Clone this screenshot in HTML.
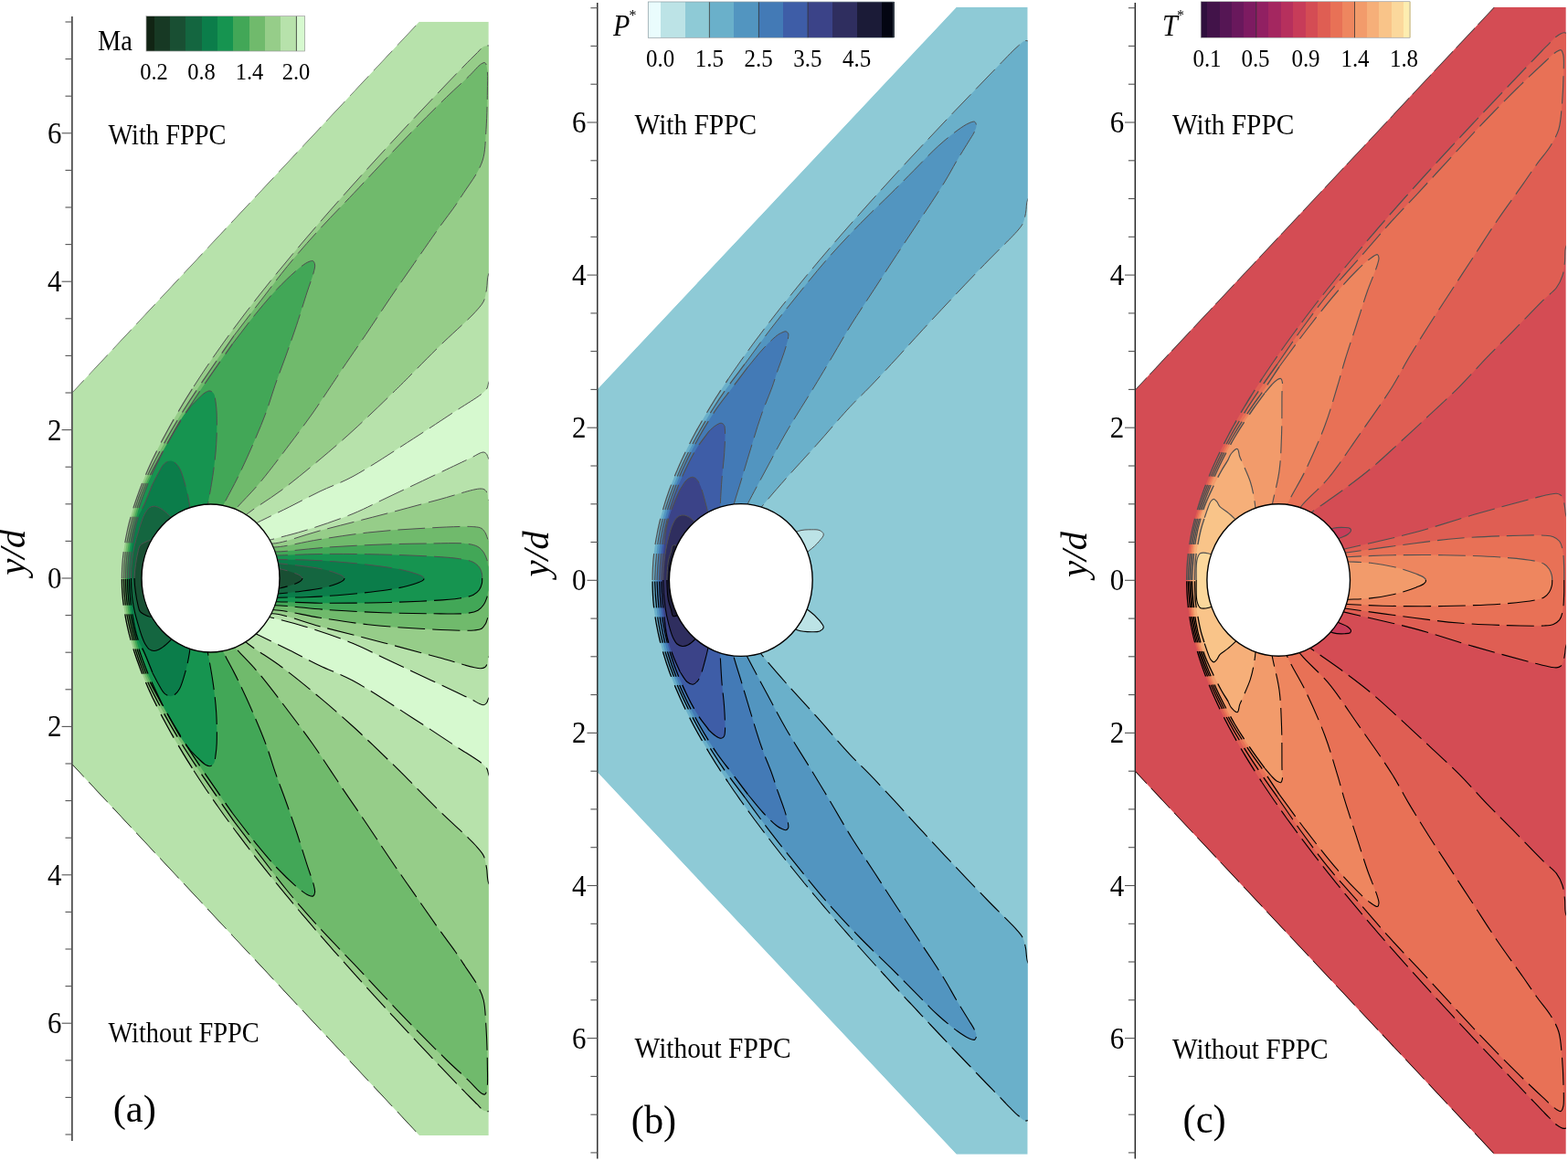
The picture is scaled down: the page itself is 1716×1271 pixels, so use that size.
<!DOCTYPE html>
<html lang="en">
<head>
<meta charset="utf-8">
<title>Contours with and without FPPC</title>
<style>
html,body{margin:0;padding:0;background:#fff;}
body{width:1716px;height:1271px;overflow:hidden;}
svg{display:block;}
text{font-family:"Liberation Serif","DejaVu Serif",serif;fill:#000;}
.it{font-style:italic;}
</style>
</head>
<body>
<svg width="1716" height="1271" viewBox="0 0 1716 1271">
<rect width="1716" height="1271" fill="#fff"/>
<defs><clipPath id="doma"><path d="M79.3,429.2 L458.7,23.7 L534.8,23.7 L534.8,1243 L458.7,1243 L79.3,837.5Z"/></clipPath>
<clipPath id="upa"><rect x="0" y="0" width="1716" height="633"/></clipPath>
<clipPath id="loa"><rect x="0" y="633" width="1716" height="638"/></clipPath></defs>
<g clip-path="url(#doma)">
<path d="M79.3,429.2 L458.7,23.7 L534.8,23.7 L534.8,1243 L458.7,1243 L79.3,837.5Z" fill="#b7e2ab"/>
<g clip-path="url(#upa)">
<g stroke="none">
<path d="M134.3,653 C134,649.7 133.7,646.3 133.6,643 C133.5,639.7 133.4,636.3 133.4,633 C133.4,629.7 133.5,626.3 133.6,623 C133.8,619.7 134,616.3 134.3,613 C134.6,609.7 135,606.3 135.4,603 C135.9,599.7 136.4,596.3 137,593 C137.6,589.7 138.2,586.3 138.9,583 C139.6,579.7 140.4,576.3 141.2,573 C142.1,569.7 143,566.3 143.9,563 C144.9,559.7 145.9,556.3 147,553 C148.1,549.7 149.2,546.3 150.4,543 C151.6,539.7 152.8,536.3 154.1,533 C155.4,529.7 156.7,526.3 158.1,523 C159.5,519.7 161,516.3 162.4,513 C163.9,509.7 165.5,506.3 167,503 C168.6,499.7 170.3,496.3 171.9,493 C173.6,489.7 175.3,486.3 177,483 C178.8,479.7 180.6,476.3 182.4,473 C184.2,469.7 186.1,466.3 187.9,463 C189.8,459.7 191.8,456.3 193.7,453 C195.7,449.7 197.7,446.3 199.7,443 C201.7,439.7 203.7,436.3 205.8,433 C207.9,429.7 210,426.3 212.1,423 C214.2,419.7 216.4,416.3 218.6,413 C220.8,409.7 223,406.3 225.2,403 C227.5,399.7 229.7,396.3 232,393 C234.3,389.7 236.6,386.3 239,383 C241.3,379.7 243.7,376.3 246.1,373 C248.5,369.7 250.9,366.3 253.4,363 C255.8,359.7 258.3,356.3 260.8,353 C263.3,349.7 265.8,346.3 268.3,343 C270.9,339.7 273.5,336.3 276,333 C278.6,329.7 281.2,326.3 283.8,323 C286.5,319.7 289.1,316.3 291.8,313 C294.4,309.7 297.1,306.3 299.8,303 C302.5,299.7 305.3,296.3 308,293 C310.7,289.7 313.5,286.3 316.3,283 C319,279.7 321.8,276.3 324.6,273 C327.5,269.7 330.3,266.3 333.1,263 C336,259.7 338.8,256.3 341.7,253 C344.5,249.7 347.4,246.3 350.3,243 C353.2,239.7 356.1,236.3 359,233 C362,229.7 364.9,226.3 367.8,223 C370.8,219.7 373.7,216.3 376.7,213 C379.7,209.7 382.7,206.3 385.6,203 C388.6,199.7 391.6,196.3 394.6,193 C397.6,189.7 400.7,186.3 403.7,183 C406.7,179.7 409.8,176.3 412.8,173 C415.9,169.7 418.9,166.3 422,163 C425,159.7 428.1,156.3 431.2,153 C434.3,149.7 437.4,146.3 440.5,143 C443.6,139.7 446.7,136.3 449.8,133 C453,129.7 456.1,126.3 459.2,123 C462.4,119.7 465.5,116.3 468.7,113 C471.8,109.7 475,106.3 478.2,103 C481.4,99.7 484.5,96.3 487.7,93 C490.9,89.7 494.1,86.3 497.3,83 C500.5,79.7 503.9,76.2 507,73 C509.8,70.1 512.5,67.4 515.2,64.7 C517.7,62.2 520.1,59.8 522.5,57.5 C524.9,55.2 527,52 529.8,50.7 C532.5,49.5 537.7,50 539.1,50 C539.6,50 539.7,50 540,50 L541,292 C538.9,294.7 536.1,296.6 534.7,300 C532.9,304.4 533.5,311.5 532.5,316.7 C531.6,321.4 531.2,325.9 529.2,330 C527.1,334.3 523.2,338 520,341.7 C516.8,345.3 514.1,347.7 510,351.7 C503.6,357.9 494,366.4 485,375 C474.2,385.4 458.5,401.4 450,410 C445.1,415 443.6,416.6 438.3,421.8 C427.2,432.7 402,457.2 386,471.7 C373,483.5 362.6,492.5 350,503 C336.6,514.2 321.7,526.5 308,536.7 C295.6,545.9 282.1,553.8 271.7,561.7 C263.4,568.1 257.2,573.9 250,580 L230.5,623 L230.5,658Z" fill="#96cd89"/>
<path d="M270,578 C274.2,575.9 277.3,574.3 282.5,571.7 C291.1,567.4 305.4,560.6 316.7,555 C327.9,549.4 338.6,543.5 350,538 C361.7,532.4 372.4,529 386,521.7 C405.1,511.4 432.4,493 452.7,480 C469.9,469 486.3,458 500,449 C510.6,442.1 522.6,435.1 528,430.5 C530.5,428.3 531.8,427.2 533,425 C534.3,422.7 534.1,419.2 535.5,417 C536.8,414.9 539.2,413.7 541,412 L540,508 C538.2,506 535.9,504 534.6,502 C533.6,500.4 533.6,498.4 532.6,497.2 C531.7,496.1 530.6,495.1 529,495 C525.9,494.8 519.7,499.3 515,501.5 C510.1,503.8 506.5,505.5 500,508.6 C488.2,514.2 464.6,525.4 450,532.3 C438.7,537.6 430.3,541.6 420,546.5 C409,551.7 398.7,557.3 386,562.5 C370.4,568.9 349,576.1 333,581 C320.1,585 307.5,587.9 297.7,590.5 C290.8,592.3 285.9,593.5 280,595Z" fill="#d6f9cf"/>
<path d="M136.3,653 C136,646.3 135.3,640.5 135.4,633 C135.5,623.4 136.2,611.5 137.9,600 C139.8,587.2 143.4,572.3 146.9,560 C149.9,549.2 153.1,540 157.3,530 C161.7,519.4 167,509 172.8,498 C179.2,485.8 186.8,472.3 194.2,460 C201.4,448 208,438 216.6,425 C227.8,408.1 243.6,384.7 256,367.5 C266.5,353 276.1,341.1 286,328.3 C295.6,315.9 304.4,303.8 314.3,291.7 C324.4,279.3 334.6,267.6 346,255 C358.7,241 374.6,224.8 387.2,211.5 C397.9,200.2 406.4,190.9 416.7,180 C427.8,168.2 439.8,155.5 451.7,143.3 C463.7,131 477.2,117.5 488.3,106.7 C497.3,97.9 506.3,90.1 513.3,83.3 C518.5,78.3 523.3,72 526.7,70 C528.3,69 529.8,68.2 530.8,68.7 C532.1,69.3 532.5,72.1 533,75 C534,80.5 533.5,90.6 533.4,100 C533.3,112.1 532.8,129 532,141.7 C531.3,152.5 531.1,163.5 529.2,171.7 C527.8,177.7 526.1,181.2 523.3,186.7 C519.5,194.2 511.6,204.8 507,211.8 C503.7,216.9 501.8,220 498.3,225 C493.4,232.1 486.6,240.7 480,250 C471.9,261.4 462.2,275.5 453.3,288.3 C444.4,301.1 435.5,313.7 426.7,326.7 C417.8,339.9 408.8,353.7 400,366.7 C391.6,379.2 381.8,393.1 375,403.3 C370.2,410.5 367.4,414.8 362.7,421.8 C356.6,430.9 349.1,442.5 341.7,453 C333.8,464.1 325.7,474.8 316.7,486.7 C306.4,500.3 293.5,517.6 283,530 C274.5,540 265.9,548.3 259,556 C253.7,561.9 249.7,566.7 245,572 L230.5,623 L230.5,658Z" fill="#70ba6c"/>
<path d="M138.3,653 C138,646.3 137.3,640.5 137.4,633 C137.5,623.4 138.2,611.5 139.9,600 C141.8,587.2 145.3,572.3 148.9,560 C152,549.2 155.2,540 159.5,530 C164.1,519.4 169.9,509 176,498 C182.7,485.8 190.6,472.3 198.2,460 C205.6,448 212.5,437.5 220.8,425 C230.8,410.1 243.7,391.2 254.3,376.7 C263.3,364.4 271.6,353.7 280.1,343.3 C287.9,333.8 295,325.1 303,316.7 C310.9,308.4 321.1,298.6 327.7,293.3 C331.7,290.1 335.1,287.6 338,286.5 C339.8,285.8 341.6,285.2 342.7,285.8 C343.8,286.4 344.4,288.3 344.6,290 C344.9,292.4 343.9,295.4 343,299 C341.6,304.6 338.6,312 336,320 C332.6,330.5 328.3,344.8 324.3,356.7 C320.5,368.1 316.6,379 312.7,390 C308.9,400.7 304.6,411.5 301,421.8 C297.6,431.5 295.4,440 291.7,450 C287.5,461.5 282,474.6 276.7,486.7 C271.4,498.9 265.6,511.7 260,523 C255,533.2 249.3,543.2 245,551.7 C241.6,558.5 239,563.9 236,570 L230.5,623 L230.5,658Z" fill="#42a757"/>
<path d="M140.3,653 C140,646.3 139.3,640.5 139.4,633 C139.5,623.4 140.2,611.5 141.9,600 C143.8,587.2 147.3,572.3 150.9,560 C154,549.2 157.5,540.1 161.6,530 C166,519.4 172.6,505.9 176.5,498 C178.8,493.2 179.9,491.3 182.4,486.7 C186.5,479.3 193.9,465.6 198.8,458 C202.3,452.7 205.3,448.8 208.5,445 C211.2,441.8 213.9,439.3 216.7,436.7 C219.4,434.2 222.4,430.9 225,429.5 C226.8,428.5 228.5,427.7 230,428 C231.5,428.3 233,429.5 234,431 C235.3,433.1 235.5,436.7 236,440 C236.6,443.9 237,447.6 237.2,453 C237.5,461.6 237.4,475.5 236.7,486.7 C236,497.9 234.6,509.1 233,520 C231.5,530.7 229.2,542.6 227.5,551.7 C226.2,558.6 225.2,563.9 224,570 L230.5,623 L230.5,658Z" fill="#169450"/>
<path d="M142.3,653 C142,646.3 141.3,640.5 141.4,633 C141.5,623.4 142.3,610.9 143.9,600 C145.5,588.9 147.9,575.8 150.9,567 C153,560.8 155.8,557.3 158.2,551.7 C161.1,545.1 164.2,536.1 167,530 C169.2,525.4 171.1,521.8 173.3,518 C175.4,514.3 177.4,509.8 180,507.5 C182,505.8 184.6,504.5 186.7,504.5 C188.6,504.5 190.4,505.7 192,507 C193.8,508.4 195.2,510.3 196.7,513 C199.1,517.4 201.2,525.2 203,531.7 C204.9,538.5 206.5,546.3 207.5,553 C208.4,559 208.5,564.3 209,570 L230.5,623 L230.5,658Z" fill="#0b7d4a"/>
<path d="M144.3,653 C144,646.3 143.3,639.7 143.4,633 C143.4,626.3 143.9,619.3 144.6,613 C145.3,607.4 146.2,602.2 147.4,597 C148.5,591.9 150.1,586.7 151.5,582 C152.7,577.8 153.9,573.6 155.3,570 C156.4,567 157.3,564.4 158.7,562 C160.1,559.7 161.7,557.1 163.5,555.8 C165,554.8 166.7,554.3 168.3,554.2 C170,554.1 171.8,554.8 173.5,555.5 C175.2,556.2 176.5,557 178.3,558.3 C180.8,560.1 184,563.1 186.7,565.8 C189.6,568.6 192.2,571.9 195,575 L230.5,623 L230.5,658Z" fill="#146640"/>
<path d="M148,653 C147.7,646.3 146.9,639.2 147.1,633 C147.2,627.5 147.8,622.4 148.5,617.5 C149.1,613.1 149.9,608.7 150.8,605 C151.6,602 151.8,598.9 153.4,597 C154.7,595.3 157.2,594.4 159,593.5 C160.5,592.7 161.7,592 163.3,591.7 C165.3,591.4 167.7,591.1 170,592 C173.2,593.2 176.7,597.3 180,600 L230.5,623 L230.5,658Z" fill="#194f33"/>
<path d="M285,592 C289.5,593 292.6,595.1 298.5,595 C310.1,594.7 331.5,585.9 350,581 C371.5,575.3 397.6,568.9 420,563 C440.8,557.6 461.3,551.9 480,547 C496.3,542.7 518.4,534.9 526,535 C528.5,535 529.7,535.5 531,536.5 C532.2,537.5 532.9,539.3 533.5,541 C534.1,542.8 533.5,545.3 534.6,547 C535.8,549 538.9,550.3 541,552 L545,560 C545,591.7 565.4,634.6 545,655 C507.8,692.2 335.3,655 230.5,655Z" fill="#96cd89"/>
<path d="M285,597 C290,597.7 293.6,599.1 300,599 C311.8,598.8 333.1,593.1 350,590.5 C367.3,587.8 384.7,585 402.7,583 C421.4,580.9 440.7,579.5 460,578.5 C479.5,577.4 508.4,575.7 519,576.7 C522.9,577.1 524.9,577.2 527,578.5 C529,579.7 530.3,582 531.5,584 C532.7,586.1 532.8,589 534.3,591 C535.9,593.1 538.8,594.3 541,596 L545,560 C545,591.7 565.4,634.6 545,655 C507.8,692.2 335.3,655 230.5,655Z" fill="#70ba6c"/>
<path d="M285,603 C290.3,603.3 294,604.1 301,604 C314.5,603.9 340.3,600.3 360,599 C379.7,597.7 400,596.7 419,596 C436.6,595.4 453.9,595.1 470,595 C484.4,594.9 501.5,594 511,595.3 C516.3,596 519.8,596.7 523,598.5 C525.8,600.1 527.8,602.5 529.5,605 C531.1,607.4 532.1,610.4 533,613 C533.8,615.4 533.4,618 534.6,620 C535.9,622.1 538.9,623.3 541,625 L545,560 C545,591.7 565.4,634.6 545,655 C507.8,692.2 335.3,655 230.5,655Z" fill="#42a757"/>
<path d="M285,608 C290.9,608 295.4,608.1 302.7,608 C314.7,607.8 333.8,606.7 350,606.5 C367.1,606.3 384.8,606.4 402.7,606.7 C421.4,607 442.3,607.6 460,608.5 C475.3,609.3 492.1,610 502.7,611.7 C509.1,612.7 514.1,613.5 518,615.5 C520.8,617 522.9,618.8 524.5,621 C526,623 526.9,625.8 527.4,628 C527.8,629.8 527.6,630.7 527.7,633 C527.8,637.7 527.7,647.7 527.7,655 L230.5,655Z" fill="#169450"/>
<path d="M285,612 C291.2,612.2 296.5,612.4 303.5,612.5 C312.6,612.7 324.3,612.6 335,613 C346.1,613.4 357.5,614.1 369,615 C380.8,615.9 393.5,617.1 405,618.5 C415.7,619.8 427,621.2 436,623 C443.2,624.5 450.1,626.3 455,628 C458.3,629.1 461.5,630.1 463,631.5 C463.8,632.3 464.2,633 464.3,634 C464.4,635.6 462.8,638 462,640 L230.5,655Z" fill="#0b7d4a"/>
<path d="M285,615 C291.3,615.6 297.2,616 304,616.7 C312,617.5 321.6,618.4 330,619.5 C337.8,620.5 345.9,621.5 352.7,623 C358.3,624.3 363.8,625.8 368,627.5 C371.2,628.7 374.7,630 376,631.5 C376.7,632.3 377,633 377,634 C376.9,635.6 375,638 374,640 L230.5,655Z" fill="#146640"/>
<path d="M285,620 C291.7,620.8 298.6,621.2 305,622.5 C311.1,623.7 318.2,625.7 322.7,627.5 C325.6,628.6 328.1,629.6 329.5,631 C330.4,631.9 331,632.8 331,634 C331,635.7 329,638 328,640 L230.5,655Z" fill="#194f33"/>
</g>
<g fill="none" stroke="#505050" stroke-width="1.0" stroke-linecap="butt">
<path d="M134.3,653 C134,649.7 133.7,646.3 133.6,643 C133.5,639.7 133.4,636.3 133.4,633 C133.4,629.7 133.5,626.3 133.6,623 C133.8,619.7 134,616.3 134.3,613 C134.6,609.7 135,606.3 135.4,603 C135.9,599.7 136.4,596.3 137,593 C137.6,589.7 138.2,586.3 138.9,583 C139.6,579.7 140.4,576.3 141.2,573 C142.1,569.7 143,566.3 143.9,563 C144.9,559.7 145.9,556.3 147,553 C148.1,549.7 149.2,546.3 150.4,543 C151.6,539.7 152.8,536.3 154.1,533 C155.4,529.7 156.7,526.3 158.1,523 C159.5,519.7 161,516.3 162.4,513 C163.9,509.7 165.5,506.3 167,503 C168.6,499.7 170.3,496.3 171.9,493 C173.6,489.7 175.3,486.3 177,483 C178.8,479.7 180.6,476.3 182.4,473 C184.2,469.7 186.1,466.3 187.9,463 C189.8,459.7 191.8,456.3 193.7,453 C195.7,449.7 197.7,446.3 199.7,443 C201.7,439.7 203.7,436.3 205.8,433 C207.9,429.7 210,426.3 212.1,423" stroke-dasharray="29 10" stroke-dashoffset="19" stroke-width="1.2"/>
<path d="M212.1,423 C214.3,419.7 216.4,416.3 218.6,413 C220.8,409.7 223,406.3 225.2,403 C227.5,399.7 229.7,396.3 232,393 C234.3,389.7 236.6,386.3 239,383 C241.3,379.7 243.7,376.3 246.1,373 C248.5,369.7 250.9,366.3 253.4,363 C255.8,359.7 258.3,356.3 260.8,353 C263.3,349.7 265.8,346.3 268.3,343 C270.9,339.7 273.5,336.3 276,333 C278.6,329.7 281.2,326.3 283.8,323 C286.5,319.7 289.1,316.3 291.8,313 C294.4,309.7 297.1,306.3 299.8,303 C302.5,299.7 305.3,296.3 308,293 C310.7,289.7 313.5,286.3 316.3,283 C319,279.7 321.8,276.3 324.6,273 C327.5,269.7 330.3,266.3 333.1,263 C336,259.7 338.8,256.3 341.7,253 C344.5,249.7 347.4,246.3 350.3,243 C353.2,239.7 356.1,236.3 359,233 C362,229.7 364.9,226.3 367.8,223 C370.8,219.7 373.7,216.3 376.7,213 C379.7,209.7 382.7,206.3 385.6,203 C388.6,199.7 391.6,196.3 394.6,193 C397.6,189.7 400.7,186.3 403.7,183 C406.7,179.7 409.8,176.3 412.8,173 C415.9,169.7 418.9,166.3 422,163 C425,159.7 428.1,156.3 431.2,153 C434.3,149.7 437.4,146.3 440.5,143 C443.6,139.7 446.7,136.3 449.8,133 C453,129.7 456.1,126.3 459.2,123 C462.4,119.7 465.5,116.3 468.7,113 C471.8,109.7 475,106.3 478.2,103 C481.4,99.7 484.5,96.3 487.7,93 C490.9,89.7 494.1,86.3 497.3,83 C500.5,79.7 503.9,76.2 507,73 C509.8,70.1 512.5,67.4 515.2,64.7 C517.7,62.2 520.1,59.8 522.5,57.5 C524.9,55.2 527,52 529.8,50.7 C532.5,49.5 537.7,50 539.1,50 C539.6,50 539.7,50 540,50" stroke-dasharray="30 8"/>
<path d="M541,292 C538.9,294.7 536.1,296.6 534.7,300 C532.9,304.4 533.5,311.5 532.5,316.7 C531.6,321.4 531.2,325.9 529.2,330 C527.1,334.3 523.2,338 520,341.7 C516.8,345.3 514.1,347.7 510,351.7 C503.6,357.9 494,366.4 485,375 C474.2,385.4 458.5,401.4 450,410 C445.1,415 443.6,416.6 438.3,421.8 C427.2,432.7 402,457.2 386,471.7 C373,483.5 362.6,492.5 350,503 C336.6,514.2 321.7,526.5 308,536.7 C295.6,545.9 282.1,553.8 271.7,561.7 C263.4,568.1 257.2,573.9 250,580" stroke-dasharray="30 8"/>
<path d="M270,578 C274.2,575.9 277.3,574.3 282.5,571.7 C291.1,567.4 305.4,560.6 316.7,555 C327.9,549.4 338.6,543.5 350,538 C361.7,532.4 372.4,529 386,521.7 C405.1,511.4 432.4,493 452.7,480 C469.9,469 486.3,458 500,449 C510.6,442.1 522.6,435.1 528,430.5 C530.5,428.3 531.8,427.2 533,425 C534.3,422.7 534.1,419.2 535.5,417 C536.8,414.9 539.2,413.7 541,412" stroke-dasharray="30 8"/>
<path d="M540,508 C538.2,506 535.9,504 534.6,502 C533.6,500.4 533.6,498.4 532.6,497.2 C531.7,496.1 530.6,495.1 529,495 C525.9,494.8 519.7,499.3 515,501.5 C510.1,503.8 506.5,505.5 500,508.6 C488.2,514.2 464.6,525.4 450,532.3 C438.7,537.6 430.3,541.6 420,546.5 C409,551.7 398.7,557.3 386,562.5 C370.4,568.9 349,576.1 333,581 C320.1,585 307.5,587.9 297.7,590.5 C290.8,592.3 285.9,593.5 280,595" stroke-dasharray="30 8"/>
<path d="M136.3,653 C136,646.3 135.3,640.5 135.4,633 C135.5,623.4 136.2,611.5 137.9,600 C139.8,587.2 143.4,572.3 146.9,560 C149.9,549.2 153.1,540 157.3,530 C161.7,519.4 167,509 172.8,498 C179.2,485.8 186.8,472.3 194.2,460 C201.4,448 208,438 216.6,425 C227.8,408.1 242.9,386.7 256,367.5" stroke-dasharray="29 10" stroke-dashoffset="19" stroke-width="1.2"/>
<path d="M256,367.5 C266,354.4 276.1,341.1 286,328.3 C295.6,315.9 304.4,303.8 314.3,291.7 C324.4,279.3 334.6,267.6 346,255 C358.7,241 374.6,224.8 387.2,211.5 C397.9,200.2 406.4,190.9 416.7,180 C427.8,168.2 439.8,155.5 451.7,143.3 C463.7,131 477.2,117.5 488.3,106.7 C497.3,97.9 506.3,90.1 513.3,83.3 C518.5,78.3 523.3,72 526.7,70 C528.3,69 529.8,68.2 530.8,68.7 C532.1,69.3 532.5,72.1 533,75 C534,80.5 533.5,90.6 533.4,100 C533.3,112.1 532.8,129 532,141.7 C531.3,152.5 531.1,163.5 529.2,171.7 C527.8,177.7 526.1,181.2 523.3,186.7 C519.5,194.2 511.6,204.8 507,211.8 C503.7,216.9 501.8,220 498.3,225 C493.4,232.1 486.6,240.7 480,250 C471.9,261.4 462.2,275.5 453.3,288.3 C444.4,301.1 435.5,313.7 426.7,326.7 C417.8,339.9 408.8,353.7 400,366.7 C391.6,379.2 381.8,393.1 375,403.3 C370.2,410.5 367.4,414.8 362.7,421.8 C356.6,430.9 349.1,442.5 341.7,453 C333.8,464.1 325.7,474.8 316.7,486.7 C306.4,500.3 293.5,517.6 283,530 C274.5,540 265.9,548.3 259,556 C253.7,561.9 249.7,566.7 245,572" stroke-dasharray="30 8"/>
<path d="M138.3,653 C138,646.3 137.3,640.5 137.4,633 C137.5,623.4 138.2,611.5 139.9,600 C141.8,587.2 145.3,572.3 148.9,560 C152,549.2 155.2,540 159.5,530 C164.1,519.4 169.9,509 176,498 C182.7,485.8 190.6,472.3 198.2,460 C205.6,448 212.5,437.5 220.8,425 C230.8,410.1 243.1,392.8 254.3,376.7" stroke-dasharray="29 10" stroke-dashoffset="19" stroke-width="1.2"/>
<path d="M254.3,376.7 C262.9,365.6 271.6,353.7 280.1,343.3 C287.9,333.8 295,325.1 303,316.7 C310.9,308.4 321.1,298.6 327.7,293.3 C331.7,290.1 335.1,287.6 338,286.5 C339.8,285.8 341.6,285.2 342.7,285.8 C343.8,286.4 344.4,288.3 344.6,290 C344.9,292.4 343.9,295.4 343,299 C341.6,304.6 338.6,312 336,320 C332.6,330.5 328.3,344.8 324.3,356.7 C320.5,368.1 316.6,379 312.7,390 C308.9,400.7 304.6,411.5 301,421.8 C297.6,431.5 295.4,440 291.7,450 C287.5,461.5 282,474.6 276.7,486.7 C271.4,498.9 265.6,511.7 260,523 C255,533.2 249.3,543.2 245,551.7 C241.6,558.5 239,563.9 236,570" stroke-dasharray="30 8"/>
<path d="M140.3,653 C140,646.3 139.3,640.5 139.4,633 C139.5,623.4 140.2,611.5 141.9,600 C143.8,587.2 147.3,572.3 150.9,560 C154,549.2 157.5,540.1 161.6,530 C166,519.4 172.6,505.9 176.5,498 C178.8,493.2 179.9,491.3 182.4,486.7 C186.5,479.3 193.9,465.6 198.8,458 C202.3,452.7 205.3,449.3 208.5,445" stroke-dasharray="29 10" stroke-dashoffset="19" stroke-width="1.2"/>
<path d="M208.5,445 C211.2,442.2 213.9,439.3 216.7,436.7 C219.4,434.2 222.4,430.9 225,429.5 C226.8,428.5 228.5,427.7 230,428 C231.5,428.3 233,429.5 234,431 C235.3,433.1 235.5,436.7 236,440 C236.6,443.9 237,447.6 237.2,453 C237.5,461.6 237.4,475.5 236.7,486.7 C236,497.9 234.6,509.1 233,520 C231.5,530.7 229.2,542.6 227.5,551.7 C226.2,558.6 225.2,563.9 224,570" stroke-dasharray="30 8"/>
<path d="M142.3,653 C142,646.3 141.3,640.5 141.4,633 C141.5,623.4 142.3,610.9 143.9,600 C145.5,588.9 147.9,575.8 150.9,567 C153,560.8 155.8,557.3 158.2,551.7 C161.1,545.1 164.1,537.2 167,530" stroke-dasharray="29 10" stroke-dashoffset="19" stroke-width="1.2"/>
<path d="M167,530 C169.1,526 171.1,521.8 173.3,518 C175.4,514.3 177.4,509.8 180,507.5 C182,505.8 184.6,504.5 186.7,504.5 C188.6,504.5 190.4,505.7 192,507 C193.8,508.4 195.2,510.3 196.7,513 C199.1,517.4 201.2,525.2 203,531.7 C204.9,538.5 206.5,546.3 207.5,553 C208.4,559 208.5,564.3 209,570" stroke-dasharray="30 8"/>
<path d="M144.3,653 C144,646.3 143.3,639.7 143.4,633 C143.4,626.3 143.9,619.3 144.6,613 C145.3,607.4 146.2,602.2 147.4,597 C148.5,591.9 150.1,586.7 151.5,582 C152.7,577.8 153.9,573.6 155.3,570 C156.4,567 157.3,564.4 158.7,562 C160.1,559.7 161.7,557.1 163.5,555.8 C165,554.8 166.7,554.3 168.3,554.2 C170,554.1 171.8,554.8 173.5,555.5 C175.2,556.2 176.5,557 178.3,558.3 C180.8,560.1 184,563.1 186.7,565.8 C189.6,568.6 192.2,571.9 195,575"/>
<path d="M148,653 C147.7,646.3 146.9,639.2 147.1,633 C147.2,627.5 147.8,622.4 148.5,617.5 C149.1,613.1 149.9,608.7 150.8,605 C151.6,602 151.8,598.9 153.4,597 C154.7,595.3 157.2,594.4 159,593.5 C160.5,592.7 161.7,592 163.3,591.7 C165.3,591.4 167.7,591.1 170,592 C173.2,593.2 176.7,597.3 180,600"/>
<path d="M285,592 C289.5,593 292.6,595.1 298.5,595 C310.1,594.7 331.5,585.9 350,581 C371.5,575.3 397.6,568.9 420,563 C440.8,557.6 461.3,551.9 480,547 C496.3,542.7 518.4,534.9 526,535 C528.5,535 529.7,535.5 531,536.5 C532.2,537.5 532.9,539.3 533.5,541 C534.1,542.8 533.5,545.3 534.6,547 C535.8,549 538.9,550.3 541,552" stroke-dasharray="30 8"/>
<path d="M285,597 C290,597.7 293.6,599.1 300,599 C311.8,598.8 333.1,593.1 350,590.5 C367.3,587.8 384.7,585 402.7,583 C421.4,580.9 440.7,579.5 460,578.5 C479.5,577.4 508.4,575.7 519,576.7 C522.9,577.1 524.9,577.2 527,578.5 C529,579.7 530.3,582 531.5,584 C532.7,586.1 532.8,589 534.3,591 C535.9,593.1 538.8,594.3 541,596" stroke-dasharray="30 8"/>
<path d="M285,603 C290.3,603.3 294,604.1 301,604 C314.5,603.9 340.3,600.3 360,599 C379.7,597.7 400,596.7 419,596 C436.6,595.4 453.9,595.1 470,595 C484.4,594.9 501.5,594 511,595.3 C516.3,596 519.8,596.7 523,598.5 C525.8,600.1 527.8,602.5 529.5,605 C531.1,607.4 532.1,610.4 533,613 C533.8,615.4 533.4,618 534.6,620 C535.9,622.1 538.9,623.3 541,625" stroke-dasharray="30 8"/>
<path d="M285,608 C290.9,608 295.4,608.1 302.7,608 C314.7,607.8 333.8,606.7 350,606.5 C367.1,606.3 384.8,606.4 402.7,606.7 C421.4,607 442.3,607.6 460,608.5 C475.3,609.3 492.1,610 502.7,611.7 C509.1,612.7 514.1,613.5 518,615.5 C520.8,617 522.9,618.8 524.5,621 C526,623 526.9,625.8 527.4,628 C527.8,629.8 527.6,630.7 527.7,633 C527.8,637.7 527.7,647.7 527.7,655" stroke-dasharray="30 8"/>
<path d="M285,612 C291.2,612.2 296.5,612.4 303.5,612.5 C312.6,612.7 324.3,612.6 335,613 C346.1,613.4 357.5,614.1 369,615 C380.8,615.9 393.5,617.1 405,618.5 C415.7,619.8 427,621.2 436,623 C443.2,624.5 450.1,626.3 455,628 C458.3,629.1 461.5,630.1 463,631.5 C463.8,632.3 464.2,633 464.3,634 C464.4,635.6 462.8,638 462,640" stroke-dasharray="30 8"/>
<path d="M285,615 C291.3,615.6 297.2,616 304,616.7 C312,617.5 321.6,618.4 330,619.5 C337.8,620.5 345.9,621.5 352.7,623 C358.3,624.3 363.8,625.8 368,627.5 C371.2,628.7 374.7,630 376,631.5 C376.7,632.3 377,633 377,634 C376.9,635.6 375,638 374,640" stroke-dasharray="30 8"/>
<path d="M285,620 C291.7,620.8 298.6,621.2 305,622.5 C311.1,623.7 318.2,625.7 322.7,627.5 C325.6,628.6 328.1,629.6 329.5,631 C330.4,631.9 331,632.8 331,634 C331,635.7 329,638 328,640" stroke-dasharray="30 8"/>
</g>
</g>
<g clip-path="url(#loa)">
<g stroke="none">
<path d="M134.3,613.7 C134,617 133.7,620.4 133.6,623.7 C133.5,627 133.4,630.4 133.4,633.7 C133.4,637 133.5,640.4 133.6,643.7 C133.8,647 134,650.4 134.3,653.7 C134.6,657 135,660.4 135.4,663.7 C135.9,667 136.4,670.4 137,673.7 C137.6,677 138.2,680.4 138.9,683.7 C139.6,687 140.4,690.4 141.2,693.7 C142.1,697 143,700.4 143.9,703.7 C144.9,707 145.9,710.4 147,713.7 C148.1,717 149.2,720.4 150.4,723.7 C151.6,727 152.8,730.4 154.1,733.7 C155.4,737 156.7,740.4 158.1,743.7 C159.5,747 161,750.4 162.4,753.7 C163.9,757 165.5,760.4 167,763.7 C168.6,767 170.3,770.4 171.9,773.7 C173.6,777 175.3,780.4 177,783.7 C178.8,787 180.6,790.4 182.4,793.7 C184.2,797 186.1,800.4 187.9,803.7 C189.8,807 191.8,810.4 193.7,813.7 C195.7,817 197.7,820.4 199.7,823.7 C201.7,827 203.7,830.4 205.8,833.7 C207.9,837 210,840.4 212.1,843.7 C214.2,847 216.4,850.4 218.6,853.7 C220.8,857 223,860.4 225.2,863.7 C227.5,867 229.7,870.4 232,873.7 C234.3,877 236.6,880.4 239,883.7 C241.3,887 243.7,890.4 246.1,893.7 C248.5,897 250.9,900.4 253.4,903.7 C255.8,907 258.3,910.4 260.8,913.7 C263.3,917 265.8,920.4 268.3,923.7 C270.9,927 273.5,930.4 276,933.7 C278.6,937 281.2,940.4 283.8,943.7 C286.5,947 289.1,950.4 291.8,953.7 C294.4,957 297.1,960.4 299.8,963.7 C302.5,967 305.3,970.4 308,973.7 C310.7,977 313.5,980.4 316.3,983.7 C319,987 321.8,990.4 324.6,993.7 C327.5,997 330.3,1000.4 333.1,1003.7 C336,1007 338.8,1010.4 341.7,1013.7 C344.5,1017 347.4,1020.4 350.3,1023.7 C353.2,1027 356.1,1030.4 359,1033.7 C362,1037 364.9,1040.4 367.8,1043.7 C370.8,1047 373.7,1050.4 376.7,1053.7 C379.7,1057 382.7,1060.4 385.6,1063.7 C388.6,1067 391.6,1070.4 394.6,1073.7 C397.6,1077 400.7,1080.4 403.7,1083.7 C406.7,1087 409.8,1090.4 412.8,1093.7 C415.9,1097 418.9,1100.4 422,1103.7 C425,1107 428.1,1110.4 431.2,1113.7 C434.3,1117 437.4,1120.4 440.5,1123.7 C443.6,1127 446.7,1130.4 449.8,1133.7 C453,1137 456.1,1140.4 459.2,1143.7 C462.4,1147 465.5,1150.4 468.7,1153.7 C471.8,1157 475,1160.4 478.2,1163.7 C481.4,1167 484.5,1170.4 487.7,1173.7 C490.9,1177 494.1,1180.4 497.3,1183.7 C500.5,1187 503.9,1190.5 507,1193.7 C509.8,1196.6 512.5,1199.3 515.2,1202 C517.7,1204.5 520.1,1206.9 522.5,1209.2 C524.9,1211.5 527,1214.7 529.8,1216 C532.5,1217.2 537.7,1216.7 539.1,1216.7 C539.6,1216.7 539.7,1216.7 540,1216.7 L541,974.7 C538.9,972 536.1,970.1 534.7,966.7 C532.9,962.3 533.5,955.2 532.5,950 C531.6,945.3 531.2,940.8 529.2,936.7 C527.1,932.4 523.2,928.7 520,925 C516.8,921.4 514.1,919 510,915 C503.6,908.8 494,900.3 485,891.7 C474.2,881.3 458.5,865.3 450,856.7 C445.1,851.7 443.6,850.1 438.3,844.9 C427.2,834 402,809.5 386,795 C373,783.2 362.6,774.2 350,763.7 C336.6,752.5 321.7,740.2 308,730 C295.6,720.8 282.1,712.9 271.7,705 C263.4,698.6 257.2,692.8 250,686.7 L230.5,643.7 L230.5,608.7Z" fill="#96cd89"/>
<path d="M270,688.7 C274.2,690.8 277.3,692.4 282.5,695 C291.1,699.3 305.4,706.1 316.7,711.7 C327.9,717.3 338.6,723.2 350,728.7 C361.7,734.3 372.4,737.7 386,745 C405.1,755.3 432.4,773.7 452.7,786.7 C469.9,797.7 486.3,808.7 500,817.7 C510.6,824.6 522.6,831.6 528,836.2 C530.5,838.4 531.8,839.5 533,841.7 C534.3,844 534.1,847.5 535.5,849.7 C536.8,851.8 539.2,853 541,854.7 L540,758.7 C538.2,760.7 535.9,762.7 534.6,764.7 C533.6,766.3 533.6,768.3 532.6,769.5 C531.7,770.6 530.6,771.6 529,771.7 C525.9,771.9 519.7,767.4 515,765.2 C510.1,762.9 506.5,761.2 500,758.1 C488.2,752.5 464.6,741.3 450,734.4 C438.7,729.1 430.3,725.1 420,720.2 C409,715 398.7,709.4 386,704.2 C370.4,697.8 349,690.6 333,685.7 C320.1,681.7 307.5,678.8 297.7,676.2 C290.8,674.4 285.9,673.2 280,671.7Z" fill="#d6f9cf"/>
<path d="M136.3,613.7 C136,620.4 135.3,626.2 135.4,633.7 C135.5,643.3 136.2,655.2 137.9,666.7 C139.8,679.5 143.4,694.4 146.9,706.7 C149.9,717.5 153.1,726.7 157.3,736.7 C161.7,747.3 167,757.7 172.8,768.7 C179.2,780.9 186.8,794.4 194.2,806.7 C201.4,818.7 208,828.7 216.6,841.7 C227.8,858.6 243.6,882 256,899.2 C266.5,913.7 276.1,925.6 286,938.4 C295.6,950.8 304.4,962.9 314.3,975 C324.4,987.4 334.6,999.1 346,1011.7 C358.7,1025.7 374.6,1041.9 387.2,1055.2 C397.9,1066.5 406.4,1075.8 416.7,1086.7 C427.8,1098.5 439.8,1111.2 451.7,1123.4 C463.7,1135.7 477.2,1149.2 488.3,1160 C497.3,1168.8 506.3,1176.6 513.3,1183.4 C518.5,1188.4 523.3,1194.7 526.7,1196.7 C528.3,1197.7 529.8,1198.5 530.8,1198 C532.1,1197.4 532.5,1194.6 533,1191.7 C534,1186.2 533.5,1176.1 533.4,1166.7 C533.3,1154.6 532.8,1137.7 532,1125 C531.3,1114.2 531.1,1103.2 529.2,1095 C527.8,1089 526.1,1085.5 523.3,1080 C519.5,1072.5 511.6,1061.9 507,1054.9 C503.7,1049.8 501.8,1046.7 498.3,1041.7 C493.4,1034.6 486.6,1026 480,1016.7 C471.9,1005.3 462.2,991.2 453.3,978.4 C444.4,965.6 435.5,953 426.7,940 C417.8,926.8 408.8,913 400,900 C391.6,887.5 381.8,873.6 375,863.4 C370.2,856.2 367.4,851.9 362.7,844.9 C356.6,835.8 349.1,824.2 341.7,813.7 C333.8,802.6 325.7,791.9 316.7,780 C306.4,766.4 293.5,749.1 283,736.7 C274.5,726.7 265.9,718.4 259,710.7 C253.7,704.8 249.7,700 245,694.7 L230.5,643.7 L230.5,608.7Z" fill="#70ba6c"/>
<path d="M138.3,613.7 C138,620.4 137.3,626.2 137.4,633.7 C137.5,643.3 138.2,655.2 139.9,666.7 C141.8,679.5 145.3,694.4 148.9,706.7 C152,717.5 155.2,726.7 159.5,736.7 C164.1,747.3 169.9,757.7 176,768.7 C182.7,780.9 190.6,794.4 198.2,806.7 C205.6,818.7 212.5,829.2 220.8,841.7 C230.8,856.6 243.7,875.5 254.3,890 C263.3,902.3 271.6,913 280.1,923.4 C287.9,932.9 295,941.6 303,950 C310.9,958.3 321.1,968.1 327.7,973.4 C331.7,976.6 335.1,979.1 338,980.2 C339.8,980.9 341.6,981.5 342.7,980.9 C343.8,980.3 344.4,978.4 344.6,976.7 C344.9,974.3 343.9,971.3 343,967.7 C341.6,962.1 338.6,954.7 336,946.7 C332.6,936.2 328.3,921.9 324.3,910 C320.5,898.6 316.6,887.7 312.7,876.7 C308.9,866 304.6,855.2 301,844.9 C297.6,835.2 295.4,826.7 291.7,816.7 C287.5,805.2 282,792.1 276.7,780 C271.4,767.8 265.6,755 260,743.7 C255,733.5 249.3,723.5 245,715 C241.6,708.2 239,702.8 236,696.7 L230.5,643.7 L230.5,608.7Z" fill="#42a757"/>
<path d="M140.3,613.7 C140,620.4 139.3,626.2 139.4,633.7 C139.5,643.3 140.2,655.2 141.9,666.7 C143.8,679.5 147.3,694.4 150.9,706.7 C154,717.5 157.5,726.6 161.6,736.7 C166,747.3 172.6,760.8 176.5,768.7 C178.8,773.5 179.9,775.4 182.4,780 C186.5,787.4 193.9,801.1 198.8,808.7 C202.3,814 205.3,817.9 208.5,821.7 C211.2,824.9 213.9,827.4 216.7,830 C219.4,832.5 222.4,835.8 225,837.2 C226.8,838.2 228.5,839 230,838.7 C231.5,838.4 233,837.2 234,835.7 C235.3,833.6 235.5,830 236,826.7 C236.6,822.8 237,819.1 237.2,813.7 C237.5,805.1 237.4,791.2 236.7,780 C236,768.8 234.6,757.6 233,746.7 C231.5,736 229.2,724.1 227.5,715 C226.2,708.1 225.2,702.8 224,696.7 L230.5,643.7 L230.5,608.7Z" fill="#169450"/>
<path d="M142.3,613.7 C142,620.4 141.3,626.2 141.4,633.7 C141.5,643.3 142.3,655.8 143.9,666.7 C145.5,677.8 147.9,690.9 150.9,699.7 C153,705.9 155.8,709.4 158.2,715 C161.1,721.6 164.2,730.6 167,736.7 C169.2,741.3 171.1,744.9 173.3,748.7 C175.4,752.4 177.4,756.9 180,759.2 C182,760.9 184.6,762.2 186.7,762.2 C188.6,762.2 190.4,761 192,759.7 C193.8,758.3 195.2,756.4 196.7,753.7 C199.1,749.3 201.2,741.5 203,735 C204.9,728.2 206.5,720.4 207.5,713.7 C208.4,707.7 208.5,702.4 209,696.7 L230.5,643.7 L230.5,608.7Z" fill="#0b7d4a"/>
<path d="M144.3,613.7 C144,620.4 143.3,627 143.4,633.7 C143.4,640.4 143.9,647.4 144.6,653.7 C145.3,659.3 146.2,664.5 147.4,669.7 C148.5,674.8 150.1,680 151.5,684.7 C152.7,688.9 153.9,693.1 155.3,696.7 C156.4,699.7 157.3,702.3 158.7,704.7 C160.1,707 161.7,709.6 163.5,710.9 C165,711.9 166.7,712.4 168.3,712.5 C170,712.6 171.8,711.9 173.5,711.2 C175.2,710.5 176.5,709.7 178.3,708.4 C180.8,706.6 184,703.6 186.7,700.9 C189.6,698.1 192.2,694.8 195,691.7 L230.5,643.7 L230.5,608.7Z" fill="#146640"/>
<path d="M148,613.7 C147.7,620.4 146.9,627.5 147.1,633.7 C147.2,639.2 147.8,644.3 148.5,649.2 C149.1,653.6 149.9,658 150.8,661.7 C151.6,664.7 151.8,667.8 153.4,669.7 C154.7,671.4 157.2,672.3 159,673.2 C160.5,674 161.7,674.7 163.3,675 C165.3,675.3 167.7,675.6 170,674.7 C173.2,673.5 176.7,669.4 180,666.7 L230.5,643.7 L230.5,608.7Z" fill="#194f33"/>
<path d="M285,674.7 C289.5,673.7 292.6,671.6 298.5,671.7 C310.1,672 331.5,680.8 350,685.7 C371.5,691.4 397.6,697.8 420,703.7 C440.8,709.1 461.3,714.8 480,719.7 C496.3,724 518.4,731.8 526,731.7 C528.5,731.7 529.7,731.2 531,730.2 C532.2,729.2 532.9,727.4 533.5,725.7 C534.1,723.9 533.5,721.4 534.6,719.7 C535.8,717.7 538.9,716.4 541,714.7 L545,706.7 C545,675 565.4,632.1 545,611.7 C507.8,574.5 335.3,611.7 230.5,611.7Z" fill="#96cd89"/>
<path d="M285,669.7 C290,669 293.6,667.6 300,667.7 C311.8,667.9 333.1,673.6 350,676.2 C367.3,678.9 384.7,681.7 402.7,683.7 C421.4,685.8 440.7,687.2 460,688.2 C479.5,689.3 508.4,691 519,690 C522.9,689.6 524.9,689.5 527,688.2 C529,687 530.3,684.7 531.5,682.7 C532.7,680.6 532.8,677.7 534.3,675.7 C535.9,673.6 538.8,672.4 541,670.7 L545,706.7 C545,675 565.4,632.1 545,611.7 C507.8,574.5 335.3,611.7 230.5,611.7Z" fill="#70ba6c"/>
<path d="M285,663.7 C290.3,663.4 294,662.6 301,662.7 C314.5,662.8 340.3,666.4 360,667.7 C379.7,669 400,670 419,670.7 C436.6,671.3 453.9,671.6 470,671.7 C484.4,671.8 501.5,672.7 511,671.4 C516.3,670.7 519.8,670 523,668.2 C525.8,666.6 527.8,664.2 529.5,661.7 C531.1,659.3 532.1,656.3 533,653.7 C533.8,651.3 533.4,648.7 534.6,646.7 C535.9,644.6 538.9,643.4 541,641.7 L545,706.7 C545,675 565.4,632.1 545,611.7 C507.8,574.5 335.3,611.7 230.5,611.7Z" fill="#42a757"/>
<path d="M285,658.7 C290.9,658.7 295.4,658.6 302.7,658.7 C314.7,658.9 333.8,660 350,660.2 C367.1,660.4 384.8,660.3 402.7,660 C421.4,659.7 442.3,659.1 460,658.2 C475.3,657.4 492.1,656.7 502.7,655 C509.1,654 514.1,653.2 518,651.2 C520.8,649.7 522.9,647.9 524.5,645.7 C526,643.7 526.9,640.9 527.4,638.7 C527.8,636.9 527.6,636 527.7,633.7 C527.8,629 527.7,619 527.7,611.7 L230.5,611.7Z" fill="#169450"/>
<path d="M285,654.7 C291.2,654.5 296.5,654.3 303.5,654.2 C312.6,654 324.3,654.1 335,653.7 C346.1,653.3 357.5,652.6 369,651.7 C380.8,650.8 393.5,649.6 405,648.2 C415.7,646.9 427,645.5 436,643.7 C443.2,642.2 450.1,640.4 455,638.7 C458.3,637.6 461.5,636.6 463,635.2 C463.8,634.4 464.2,633.7 464.3,632.7 C464.4,631.1 462.8,628.7 462,626.7 L230.5,611.7Z" fill="#0b7d4a"/>
<path d="M285,651.7 C291.3,651.1 297.2,650.7 304,650 C312,649.2 321.6,648.3 330,647.2 C337.8,646.2 345.9,645.2 352.7,643.7 C358.3,642.4 363.8,640.9 368,639.2 C371.2,638 374.7,636.7 376,635.2 C376.7,634.4 377,633.7 377,632.7 C376.9,631.1 375,628.7 374,626.7 L230.5,611.7Z" fill="#146640"/>
<path d="M285,646.7 C291.7,645.9 298.6,645.5 305,644.2 C311.1,643 318.2,641 322.7,639.2 C325.6,638.1 328.1,637.1 329.5,635.7 C330.4,634.8 331,633.9 331,632.7 C331,631 329,628.7 328,626.7 L230.5,611.7Z" fill="#194f33"/>
</g>
<g fill="none" stroke="#000" stroke-width="1.1" stroke-linecap="butt">
<path d="M134.3,613.7 C134,617 133.7,620.4 133.6,623.7 C133.5,627 133.4,630.4 133.4,633.7 C133.4,637 133.5,640.4 133.6,643.7 C133.8,647 134,650.4 134.3,653.7 C134.6,657 135,660.4 135.4,663.7 C135.9,667 136.4,670.4 137,673.7 C137.6,677 138.2,680.4 138.9,683.7 C139.6,687 140.4,690.4 141.2,693.7 C142.1,697 143,700.4 143.9,703.7 C144.9,707 145.9,710.4 147,713.7 C148.1,717 149.2,720.4 150.4,723.7 C151.6,727 152.8,730.4 154.1,733.7 C155.4,737 156.7,740.4 158.1,743.7 C159.5,747 161,750.4 162.4,753.7 C163.9,757 165.5,760.4 167,763.7 C168.6,767 170.3,770.4 171.9,773.7 C173.6,777 175.3,780.4 177,783.7 C178.8,787 180.6,790.4 182.4,793.7 C184.2,797 186.1,800.4 187.9,803.7 C189.8,807 191.8,810.4 193.7,813.7 C195.7,817 197.7,820.4 199.7,823.7 C201.7,827 203.7,830.4 205.8,833.7 C207.9,837 210,840.4 212.1,843.7" stroke-dasharray="29 10" stroke-dashoffset="19" stroke-width="1.3"/>
<path d="M212.1,843.7 C214.3,847 216.4,850.4 218.6,853.7 C220.8,857 223,860.4 225.2,863.7 C227.5,867 229.7,870.4 232,873.7 C234.3,877 236.6,880.4 239,883.7 C241.3,887 243.7,890.4 246.1,893.7 C248.5,897 250.9,900.4 253.4,903.7 C255.8,907 258.3,910.4 260.8,913.7 C263.3,917 265.8,920.4 268.3,923.7 C270.9,927 273.5,930.4 276,933.7 C278.6,937 281.2,940.4 283.8,943.7 C286.5,947 289.1,950.4 291.8,953.7 C294.4,957 297.1,960.4 299.8,963.7 C302.5,967 305.3,970.4 308,973.7 C310.7,977 313.5,980.4 316.3,983.7 C319,987 321.8,990.4 324.6,993.7 C327.5,997 330.3,1000.4 333.1,1003.7 C336,1007 338.8,1010.4 341.7,1013.7 C344.5,1017 347.4,1020.4 350.3,1023.7 C353.2,1027 356.1,1030.4 359,1033.7 C362,1037 364.9,1040.4 367.8,1043.7 C370.8,1047 373.7,1050.4 376.7,1053.7 C379.7,1057 382.7,1060.4 385.6,1063.7 C388.6,1067 391.6,1070.4 394.6,1073.7 C397.6,1077 400.7,1080.4 403.7,1083.7 C406.7,1087 409.8,1090.4 412.8,1093.7 C415.9,1097 418.9,1100.4 422,1103.7 C425,1107 428.1,1110.4 431.2,1113.7 C434.3,1117 437.4,1120.4 440.5,1123.7 C443.6,1127 446.7,1130.4 449.8,1133.7 C453,1137 456.1,1140.4 459.2,1143.7 C462.4,1147 465.5,1150.4 468.7,1153.7 C471.8,1157 475,1160.4 478.2,1163.7 C481.4,1167 484.5,1170.4 487.7,1173.7 C490.9,1177 494.1,1180.4 497.3,1183.7 C500.5,1187 503.9,1190.5 507,1193.7 C509.8,1196.6 512.5,1199.3 515.2,1202 C517.7,1204.5 520.1,1206.9 522.5,1209.2 C524.9,1211.5 527,1214.7 529.8,1216 C532.5,1217.2 537.7,1216.7 539.1,1216.7 C539.6,1216.7 539.7,1216.7 540,1216.7" stroke-dasharray="30 8"/>
<path d="M541,974.7 C538.9,972 536.1,970.1 534.7,966.7 C532.9,962.3 533.5,955.2 532.5,950 C531.6,945.3 531.2,940.8 529.2,936.7 C527.1,932.4 523.2,928.7 520,925 C516.8,921.4 514.1,919 510,915 C503.6,908.8 494,900.3 485,891.7 C474.2,881.3 458.5,865.3 450,856.7 C445.1,851.7 443.6,850.1 438.3,844.9 C427.2,834 402,809.5 386,795 C373,783.2 362.6,774.2 350,763.7 C336.6,752.5 321.7,740.2 308,730 C295.6,720.8 282.1,712.9 271.7,705 C263.4,698.6 257.2,692.8 250,686.7" stroke-dasharray="30 8"/>
<path d="M270,688.7 C274.2,690.8 277.3,692.4 282.5,695 C291.1,699.3 305.4,706.1 316.7,711.7 C327.9,717.3 338.6,723.2 350,728.7 C361.7,734.3 372.4,737.7 386,745 C405.1,755.3 432.4,773.7 452.7,786.7 C469.9,797.7 486.3,808.7 500,817.7 C510.6,824.6 522.6,831.6 528,836.2 C530.5,838.4 531.8,839.5 533,841.7 C534.3,844 534.1,847.5 535.5,849.7 C536.8,851.8 539.2,853 541,854.7" stroke-dasharray="30 8"/>
<path d="M540,758.7 C538.2,760.7 535.9,762.7 534.6,764.7 C533.6,766.3 533.6,768.3 532.6,769.5 C531.7,770.6 530.6,771.6 529,771.7 C525.9,771.9 519.7,767.4 515,765.2 C510.1,762.9 506.5,761.2 500,758.1 C488.2,752.5 464.6,741.3 450,734.4 C438.7,729.1 430.3,725.1 420,720.2 C409,715 398.7,709.4 386,704.2 C370.4,697.8 349,690.6 333,685.7 C320.1,681.7 307.5,678.8 297.7,676.2 C290.8,674.4 285.9,673.2 280,671.7" stroke-dasharray="30 8"/>
<path d="M136.3,613.7 C136,620.4 135.3,626.2 135.4,633.7 C135.5,643.3 136.2,655.2 137.9,666.7 C139.8,679.5 143.4,694.4 146.9,706.7 C149.9,717.5 153.1,726.7 157.3,736.7 C161.7,747.3 167,757.7 172.8,768.7 C179.2,780.9 186.8,794.4 194.2,806.7 C201.4,818.7 208,828.7 216.6,841.7 C227.8,858.6 242.9,880 256,899.2" stroke-dasharray="29 10" stroke-dashoffset="19" stroke-width="1.3"/>
<path d="M256,899.2 C266,912.3 276.1,925.6 286,938.4 C295.6,950.8 304.4,962.9 314.3,975 C324.4,987.4 334.6,999.1 346,1011.7 C358.7,1025.7 374.6,1041.9 387.2,1055.2 C397.9,1066.5 406.4,1075.8 416.7,1086.7 C427.8,1098.5 439.8,1111.2 451.7,1123.4 C463.7,1135.7 477.2,1149.2 488.3,1160 C497.3,1168.8 506.3,1176.6 513.3,1183.4 C518.5,1188.4 523.3,1194.7 526.7,1196.7 C528.3,1197.7 529.8,1198.5 530.8,1198 C532.1,1197.4 532.5,1194.6 533,1191.7 C534,1186.2 533.5,1176.1 533.4,1166.7 C533.3,1154.6 532.8,1137.7 532,1125 C531.3,1114.2 531.1,1103.2 529.2,1095 C527.8,1089 526.1,1085.5 523.3,1080 C519.5,1072.5 511.6,1061.9 507,1054.9 C503.7,1049.8 501.8,1046.7 498.3,1041.7 C493.4,1034.6 486.6,1026 480,1016.7 C471.9,1005.3 462.2,991.2 453.3,978.4 C444.4,965.6 435.5,953 426.7,940 C417.8,926.8 408.8,913 400,900 C391.6,887.5 381.8,873.6 375,863.4 C370.2,856.2 367.4,851.9 362.7,844.9 C356.6,835.8 349.1,824.2 341.7,813.7 C333.8,802.6 325.7,791.9 316.7,780 C306.4,766.4 293.5,749.1 283,736.7 C274.5,726.7 265.9,718.4 259,710.7 C253.7,704.8 249.7,700 245,694.7" stroke-dasharray="30 8"/>
<path d="M138.3,613.7 C138,620.4 137.3,626.2 137.4,633.7 C137.5,643.3 138.2,655.2 139.9,666.7 C141.8,679.5 145.3,694.4 148.9,706.7 C152,717.5 155.2,726.7 159.5,736.7 C164.1,747.3 169.9,757.7 176,768.7 C182.7,780.9 190.6,794.4 198.2,806.7 C205.6,818.7 212.5,829.2 220.8,841.7 C230.8,856.6 243.1,873.9 254.3,890" stroke-dasharray="29 10" stroke-dashoffset="19" stroke-width="1.3"/>
<path d="M254.3,890 C262.9,901.1 271.6,913 280.1,923.4 C287.9,932.9 295,941.6 303,950 C310.9,958.3 321.1,968.1 327.7,973.4 C331.7,976.6 335.1,979.1 338,980.2 C339.8,980.9 341.6,981.5 342.7,980.9 C343.8,980.3 344.4,978.4 344.6,976.7 C344.9,974.3 343.9,971.3 343,967.7 C341.6,962.1 338.6,954.7 336,946.7 C332.6,936.2 328.3,921.9 324.3,910 C320.5,898.6 316.6,887.7 312.7,876.7 C308.9,866 304.6,855.2 301,844.9 C297.6,835.2 295.4,826.7 291.7,816.7 C287.5,805.2 282,792.1 276.7,780 C271.4,767.8 265.6,755 260,743.7 C255,733.5 249.3,723.5 245,715 C241.6,708.2 239,702.8 236,696.7" stroke-dasharray="30 8"/>
<path d="M140.3,613.7 C140,620.4 139.3,626.2 139.4,633.7 C139.5,643.3 140.2,655.2 141.9,666.7 C143.8,679.5 147.3,694.4 150.9,706.7 C154,717.5 157.5,726.6 161.6,736.7 C166,747.3 172.6,760.8 176.5,768.7 C178.8,773.5 179.9,775.4 182.4,780 C186.5,787.4 193.9,801.1 198.8,808.7 C202.3,814 205.3,817.4 208.5,821.7" stroke-dasharray="29 10" stroke-dashoffset="19" stroke-width="1.3"/>
<path d="M208.5,821.7 C211.2,824.5 213.9,827.4 216.7,830 C219.4,832.5 222.4,835.8 225,837.2 C226.8,838.2 228.5,839 230,838.7 C231.5,838.4 233,837.2 234,835.7 C235.3,833.6 235.5,830 236,826.7 C236.6,822.8 237,819.1 237.2,813.7 C237.5,805.1 237.4,791.2 236.7,780 C236,768.8 234.6,757.6 233,746.7 C231.5,736 229.2,724.1 227.5,715 C226.2,708.1 225.2,702.8 224,696.7" stroke-dasharray="30 8"/>
<path d="M142.3,613.7 C142,620.4 141.3,626.2 141.4,633.7 C141.5,643.3 142.3,655.8 143.9,666.7 C145.5,677.8 147.9,690.9 150.9,699.7 C153,705.9 155.8,709.4 158.2,715 C161.1,721.6 164.1,729.5 167,736.7" stroke-dasharray="29 10" stroke-dashoffset="19" stroke-width="1.3"/>
<path d="M167,736.7 C169.1,740.7 171.1,744.9 173.3,748.7 C175.4,752.4 177.4,756.9 180,759.2 C182,760.9 184.6,762.2 186.7,762.2 C188.6,762.2 190.4,761 192,759.7 C193.8,758.3 195.2,756.4 196.7,753.7 C199.1,749.3 201.2,741.5 203,735 C204.9,728.2 206.5,720.4 207.5,713.7 C208.4,707.7 208.5,702.4 209,696.7" stroke-dasharray="30 8"/>
<path d="M144.3,613.7 C144,620.4 143.3,627 143.4,633.7 C143.4,640.4 143.9,647.4 144.6,653.7 C145.3,659.3 146.2,664.5 147.4,669.7 C148.5,674.8 150.1,680 151.5,684.7 C152.7,688.9 153.9,693.1 155.3,696.7 C156.4,699.7 157.3,702.3 158.7,704.7 C160.1,707 161.7,709.6 163.5,710.9 C165,711.9 166.7,712.4 168.3,712.5 C170,712.6 171.8,711.9 173.5,711.2 C175.2,710.5 176.5,709.7 178.3,708.4 C180.8,706.6 184,703.6 186.7,700.9 C189.6,698.1 192.2,694.8 195,691.7"/>
<path d="M148,613.7 C147.7,620.4 146.9,627.5 147.1,633.7 C147.2,639.2 147.8,644.3 148.5,649.2 C149.1,653.6 149.9,658 150.8,661.7 C151.6,664.7 151.8,667.8 153.4,669.7 C154.7,671.4 157.2,672.3 159,673.2 C160.5,674 161.7,674.7 163.3,675 C165.3,675.3 167.7,675.6 170,674.7 C173.2,673.5 176.7,669.4 180,666.7"/>
<path d="M285,674.7 C289.5,673.7 292.6,671.6 298.5,671.7 C310.1,672 331.5,680.8 350,685.7 C371.5,691.4 397.6,697.8 420,703.7 C440.8,709.1 461.3,714.8 480,719.7 C496.3,724 518.4,731.8 526,731.7 C528.5,731.7 529.7,731.2 531,730.2 C532.2,729.2 532.9,727.4 533.5,725.7 C534.1,723.9 533.5,721.4 534.6,719.7 C535.8,717.7 538.9,716.4 541,714.7" stroke-dasharray="30 8"/>
<path d="M285,669.7 C290,669 293.6,667.6 300,667.7 C311.8,667.9 333.1,673.6 350,676.2 C367.3,678.9 384.7,681.7 402.7,683.7 C421.4,685.8 440.7,687.2 460,688.2 C479.5,689.3 508.4,691 519,690 C522.9,689.6 524.9,689.5 527,688.2 C529,687 530.3,684.7 531.5,682.7 C532.7,680.6 532.8,677.7 534.3,675.7 C535.9,673.6 538.8,672.4 541,670.7" stroke-dasharray="30 8"/>
<path d="M285,663.7 C290.3,663.4 294,662.6 301,662.7 C314.5,662.8 340.3,666.4 360,667.7 C379.7,669 400,670 419,670.7 C436.6,671.3 453.9,671.6 470,671.7 C484.4,671.8 501.5,672.7 511,671.4 C516.3,670.7 519.8,670 523,668.2 C525.8,666.6 527.8,664.2 529.5,661.7 C531.1,659.3 532.1,656.3 533,653.7 C533.8,651.3 533.4,648.7 534.6,646.7 C535.9,644.6 538.9,643.4 541,641.7" stroke-dasharray="30 8"/>
<path d="M285,658.7 C290.9,658.7 295.4,658.6 302.7,658.7 C314.7,658.9 333.8,660 350,660.2 C367.1,660.4 384.8,660.3 402.7,660 C421.4,659.7 442.3,659.1 460,658.2 C475.3,657.4 492.1,656.7 502.7,655 C509.1,654 514.1,653.2 518,651.2 C520.8,649.7 522.9,647.9 524.5,645.7 C526,643.7 526.9,640.9 527.4,638.7 C527.8,636.9 527.6,636 527.7,633.7 C527.8,629 527.7,619 527.7,611.7" stroke-dasharray="30 8"/>
<path d="M285,654.7 C291.2,654.5 296.5,654.3 303.5,654.2 C312.6,654 324.3,654.1 335,653.7 C346.1,653.3 357.5,652.6 369,651.7 C380.8,650.8 393.5,649.6 405,648.2 C415.7,646.9 427,645.5 436,643.7 C443.2,642.2 450.1,640.4 455,638.7 C458.3,637.6 461.5,636.6 463,635.2 C463.8,634.4 464.2,633.7 464.3,632.7 C464.4,631.1 462.8,628.7 462,626.7" stroke-dasharray="30 8"/>
<path d="M285,651.7 C291.3,651.1 297.2,650.7 304,650 C312,649.2 321.6,648.3 330,647.2 C337.8,646.2 345.9,645.2 352.7,643.7 C358.3,642.4 363.8,640.9 368,639.2 C371.2,638 374.7,636.7 376,635.2 C376.7,634.4 377,633.7 377,632.7 C376.9,631.1 375,628.7 374,626.7" stroke-dasharray="30 8"/>
<path d="M285,646.7 C291.7,645.9 298.6,645.5 305,644.2 C311.1,643 318.2,641 322.7,639.2 C325.6,638.1 328.1,637.1 329.5,635.7 C330.4,634.8 331,633.9 331,632.7 C331,631 329,628.7 328,626.7" stroke-dasharray="30 8"/>
</g>
</g>
<path d="M79.3,429.2 L458.7,23.7" stroke="#4a4a4a" stroke-width="1.1" stroke-dasharray="30 8" stroke-dashoffset="12" fill="none"/><path d="M79.3,837.5 L458.7,1243" stroke="#000" stroke-width="1.1" stroke-dasharray="30 8" stroke-dashoffset="12" fill="none"/>
</g>
<ellipse cx="230.5" cy="633" rx="75.5" ry="81" fill="#fff" stroke="#000" stroke-width="1.4"/>
<path d="M78.9,18 V1249" stroke="#222" stroke-width="1.4" fill="none"/><g stroke="#555" stroke-width="1.1" fill="none"><path d="M71.5,1242 H78.9"/><path d="M71.5,1201.4 H78.9"/><path d="M71.5,1160.8 H78.9"/><path d="M67.6,1120.2 H78.9"/><path d="M71.5,1079.6 H78.9"/><path d="M71.5,1039 H78.9"/><path d="M71.5,998.4 H78.9"/><path d="M67.6,957.8 H78.9"/><path d="M71.5,917.2 H78.9"/><path d="M71.5,876.6 H78.9"/><path d="M71.5,836 H78.9"/><path d="M67.6,795.4 H78.9"/><path d="M71.5,754.8 H78.9"/><path d="M71.5,714.2 H78.9"/><path d="M71.5,673.6 H78.9"/><path d="M67.6,633 H78.9"/><path d="M71.5,592.4 H78.9"/><path d="M71.5,551.8 H78.9"/><path d="M71.5,511.2 H78.9"/><path d="M67.6,470.6 H78.9"/><path d="M71.5,430 H78.9"/><path d="M71.5,389.4 H78.9"/><path d="M71.5,348.8 H78.9"/><path d="M67.6,308.2 H78.9"/><path d="M71.5,267.6 H78.9"/><path d="M71.5,227 H78.9"/><path d="M71.5,186.4 H78.9"/><path d="M67.6,145.8 H78.9"/><path d="M71.5,105.2 H78.9"/><path d="M71.5,64.6 H78.9"/><path d="M71.5,24 H78.9"/></g><text transform="translate(67.6,156.8) scale(1.000,1.120)" font-size="31" text-anchor="end">6</text><text transform="translate(67.6,319.2) scale(1.000,1.120)" font-size="31" text-anchor="end">4</text><text transform="translate(67.6,481.6) scale(1.000,1.120)" font-size="31" text-anchor="end">2</text><text transform="translate(67.6,644) scale(1.000,1.120)" font-size="31" text-anchor="end">0</text><text transform="translate(67.6,806.4) scale(1.000,1.120)" font-size="31" text-anchor="end">2</text><text transform="translate(67.6,968.8) scale(1.000,1.120)" font-size="31" text-anchor="end">4</text><text transform="translate(67.6,1131.2) scale(1.000,1.120)" font-size="31" text-anchor="end">6</text>
<text transform="translate(118.4,157.6) scale(1.000,1.085)" font-size="28.4">With FPPC</text>
<text transform="translate(118.4,1141.4) scale(1.000,1.085)" font-size="28.4">Without FPPC</text>
<text transform="translate(123.7,1228.3) scale(1.000,1.000)" font-size="42.5">(a)</text>
<text transform="translate(27.3,629.7) rotate(-90) scale(1.045,1)" font-size="39.2" font-style="italic">y/d</text>
<g shape-rendering="crispEdges"><rect x="160" y="17.6" width="9.3" height="38.4" fill="#112414"/><rect x="168.7" y="17.6" width="17.9" height="38.4" fill="#173924"/><rect x="186" y="17.6" width="17.9" height="38.4" fill="#194f33"/><rect x="203.3" y="17.6" width="17.9" height="38.4" fill="#146640"/><rect x="220.7" y="17.6" width="17.9" height="38.4" fill="#0b7d4a"/><rect x="238" y="17.6" width="17.9" height="38.4" fill="#169450"/><rect x="255.4" y="17.6" width="17.9" height="38.4" fill="#42a757"/><rect x="272.7" y="17.6" width="17.9" height="38.4" fill="#70ba6c"/><rect x="290" y="17.6" width="17.9" height="38.4" fill="#96cd89"/><rect x="307.4" y="17.6" width="17.9" height="38.4" fill="#b7e2ab"/><rect x="324.7" y="17.6" width="9.3" height="38.4" fill="#d6f9cf"/></g><path d="M324.4,17.6 V56" stroke="#333" stroke-width="0.8" fill="none"/>
<rect x="160" y="17.6" width="173.4" height="38.4" fill="none" stroke="#9a9a9a" stroke-width="0.7"/>
<text transform="translate(107,55) scale(1.000,1.120)" font-size="28.5">Ma</text>
<text transform="translate(168.5,87) scale(1.000,1.070)" font-size="24.5" text-anchor="middle">0.2</text>
<text transform="translate(220.5,87) scale(1.000,1.070)" font-size="24.5" text-anchor="middle">0.8</text>
<text transform="translate(273,87) scale(1.000,1.070)" font-size="24.5" text-anchor="middle">1.4</text>
<text transform="translate(324,87) scale(1.000,1.070)" font-size="24.5" text-anchor="middle">2.0</text>
<defs><clipPath id="domb"><path d="M653.8,426 L1046.7,7.8 L1124.7,7.8 L1124.7,1263.7 L1046.7,1263.7 L653.8,845.5Z"/></clipPath>
<clipPath id="upb"><rect x="0" y="0" width="1716" height="635"/></clipPath>
<clipPath id="lob"><rect x="0" y="635" width="1716" height="636"/></clipPath></defs>
<g clip-path="url(#domb)">
<path d="M653.8,426 L1046.7,7.8 L1124.7,7.8 L1124.7,1263.7 L1046.7,1263.7 L653.8,845.5Z" fill="#8ecad6"/>
<g clip-path="url(#upb)">
<g stroke="none">
<path d="M715,655 C714.7,651.7 714.5,648.3 714.3,645 C714.2,641.7 714.1,638.3 714.1,635 C714.1,631.7 714.1,628.3 714.3,625 C714.4,621.7 714.6,618.3 714.8,615 C715.1,611.7 715.4,608.3 715.8,605 C716.2,601.7 716.7,598.3 717.2,595 C717.7,591.7 718.3,588.3 719,585 C719.6,581.7 720.3,578.3 721.1,575 C721.8,571.7 722.7,568.3 723.5,565 C724.4,561.7 725.4,558.3 726.4,555 C727.4,551.7 728.4,548.3 729.5,545 C730.7,541.7 731.8,538.3 733,535 C734.3,531.7 735.5,528.3 736.8,525 C738.2,521.7 739.5,518.3 741,515 C742.4,511.7 743.9,508.3 745.4,505 C746.9,501.7 748.5,498.3 750.1,495 C751.7,491.7 753.4,488.3 755.1,485 C756.8,481.7 758.5,478.3 760.3,475 C762.1,471.7 764,468.3 765.9,465 C767.7,461.7 769.7,458.3 771.6,455 C773.6,451.7 775.6,448.3 777.6,445 C779.7,441.7 781.7,438.3 783.8,435 C786,431.7 788.1,428.3 790.3,425 C792.5,421.7 794.7,418.3 796.9,415 C799.2,411.7 801.4,408.3 803.7,405 C806.1,401.7 808.4,398.3 810.7,395 C813.1,391.7 815.5,388.3 817.9,385 C820.3,381.7 822.8,378.3 825.2,375 C827.7,371.7 830.2,368.3 832.7,365 C835.2,361.7 837.7,358.3 840.3,355 C842.8,351.7 845.4,348.3 848,345 C850.6,341.7 853.2,338.3 855.8,335 C858.5,331.7 861.1,328.3 863.8,325 C866.5,321.7 869.2,318.3 871.9,315 C874.6,311.7 877.3,308.3 880,305 C882.8,301.7 885.5,298.3 888.3,295 C891.1,291.7 893.9,288.3 896.7,285 C899.5,281.7 902.3,278.3 905.2,275 C908,271.7 910.9,268.3 913.7,265 C916.6,261.7 919.5,258.3 922.4,255 C925.3,251.7 928.2,248.3 931.2,245 C934.1,241.7 937,238.3 940,235 C942.9,231.7 945.9,228.3 948.9,225 C951.9,221.7 954.9,218.3 957.9,215 C960.9,211.7 963.9,208.3 967,205 C970,201.7 973,198.3 976.1,195 C979.1,191.7 982.2,188.3 985.3,185 C988.4,181.7 991.4,178.3 994.5,175 C997.6,171.7 1000.7,168.3 1003.9,165 C1007,161.7 1010.1,158.3 1013.2,155 C1016.4,151.7 1019.5,148.3 1022.7,145 C1025.8,141.7 1029,138.3 1032.1,135 C1035.3,131.7 1038.5,128.3 1041.6,125 C1044.8,121.7 1048,118.3 1051.2,115 C1054.4,111.7 1057.6,108.3 1060.8,105 C1064,101.7 1067.2,98.3 1070.4,95 C1073.6,91.7 1076.8,88.3 1080,85 C1083.3,81.7 1086.5,78.3 1089.7,75 C1092.9,71.7 1096.5,68 1099.4,65 C1101.8,62.5 1103.6,60.6 1105.9,58.3 C1108.5,55.7 1111.5,52.6 1114.3,50.3 C1116.8,48.2 1119,45.4 1121.7,44.7 C1124.3,44.1 1127.2,45.6 1130,46 L1131,210 C1128.9,212.8 1126.1,214.9 1124.7,218.3 C1123,222.4 1123.4,228.8 1122.5,233.3 C1121.8,237 1121.1,240.5 1120,243.3 C1119.1,245.5 1118.2,246.8 1116.7,248.8 C1114.6,251.6 1112,254.4 1108.3,258.3 C1102,265 1091.2,275.2 1081.7,285 C1070.4,296.6 1057,310.6 1045,323.3 C1033.2,335.8 1021,348.9 1010,360.8 C1000,371.6 991.3,381.4 981.7,391.8 C971.9,402.4 961,414.2 951.7,423.8 C943.9,431.8 938,437.1 930,445.7 C919.2,457.2 905.3,473.9 893.3,487.3 C882,500 870.3,512.3 860,524 C850.8,534.4 841.4,545.2 834.2,554 C828.7,560.7 824.7,566 820,572 L810.8,625 L810.8,660Z" fill="#6ab0ca"/>
<path d="M717.5,655 C717.2,648.3 716.4,643 716.6,635 C716.9,623 718.3,604 720.6,590 C722.6,577.5 725.3,566.8 728.9,555 C732.7,542.5 737.7,529.5 743.1,517 C748.7,504.2 755.3,491 761.7,479 C767.8,467.8 774.6,456.6 780.6,447 C785.7,438.9 789.9,432.6 795.3,425 C801.3,416.5 807.9,408.3 815,398.7 C823.6,387.1 833.5,373.1 843.3,360.3 C853.5,347 864.4,333.4 875,320.3 C885.5,307.3 895.7,294.5 906.7,282 C917.9,269.3 930,256.5 941.7,244.5 C952.8,233.1 964.7,222 975,211.8 C984,202.9 991.5,195.2 1000,186.7 C1008.7,177.9 1018.1,167.8 1026.7,160 C1034,153.4 1041.8,147 1048,142.5 C1052.5,139.3 1056.5,136.5 1060,135 C1062.5,133.9 1065.3,132.6 1066.7,133.3 C1067.8,133.9 1068.4,135.9 1068.5,137.5 C1068.6,139.6 1067.2,142.4 1066,145 C1064.5,148.2 1062.4,151 1060,155 C1056.4,160.9 1051.1,169.3 1046.7,176.7 C1042.2,184.3 1038.6,191.4 1033.3,200 C1026.4,211.3 1016.8,225.4 1008.3,238.3 C999.6,251.5 990.4,265.1 981.7,278.3 C973.2,291.2 965,303.9 956.7,316.7 C948.4,329.5 939.6,342.3 931.7,355 C924.1,367.3 917,380 910,391.8 C903.4,402.9 898,412 890.8,423.8 C881.8,438.7 869.2,458.1 860,474 C851.9,488 845.4,500.9 838.3,514 C831.5,526.7 823.8,540.8 818.3,551.5 C814.2,559.3 811.4,565.2 808,572 L810.8,625 L810.8,660Z" fill="#5295c0"/>
<path d="M720,655 C719.7,648.3 718.9,643 719.1,635 C719.4,623 720.8,604 723.1,590 C725.1,577.5 727.8,566.8 731.4,555 C735.2,542.5 740.2,529.5 745.6,517 C751.2,504.2 758.1,491 764.7,479 C771,467.7 777.9,456.5 784.4,447 C790,438.8 795.4,432.4 801,425 C806.7,417.4 812.5,409.3 818.3,402 C823.8,395 829.4,388 835,382 C840,376.6 846,370.6 850,367.5 C852.3,365.7 854.2,364.8 856,364 C857.4,363.4 858.9,362.6 860,362.8 C861,363 862.1,364 862.6,365 C863.2,366.2 862.8,367.9 862.5,370 C862,373.7 860,380 858.3,385.3 C856.4,391.2 853.9,397.4 851.7,403.7 C849.4,410.2 847.6,416.5 845,423.8 C841.7,432.9 837,443.4 833.3,454 C829.2,465.6 825.4,478.8 821.7,490.7 C818.2,502.1 814.9,513.4 811.7,524 C808.8,533.6 805.7,543 803.3,551.5 C801.2,558.8 799.8,565.2 798,572 L810.8,625 L810.8,660Z" fill="#437ab6"/>
<path d="M722.5,655 C722.2,648.3 721.4,643 721.6,635 C721.9,623 723.3,604 725.6,590 C727.6,577.5 730.4,566.4 733.9,555 C737.3,543.8 741.6,533 746.4,522.3 C751.1,511.5 757,499.7 762.5,490.7 C767,483.5 772,476.4 776,472 C778.5,469.2 780.6,467.5 783,466 C785,464.7 787.5,463 789.2,463.2 C790.5,463.3 791.8,464.3 792.5,465.5 C793.4,467 793.3,469.1 793.5,472 C793.8,477.9 793.1,490.2 792.5,499 C791.9,507.5 790.7,515.4 790,524 C789.3,533.1 788.8,543.7 788.3,552.3 C787.8,559.5 787.4,565.4 787,572 L810.8,625 L810.8,660Z" fill="#3e5da7"/>
<path d="M724.7,655 C724.4,648.3 723.6,643 723.8,635 C724,623 726.2,601.2 727.6,590 C728.4,583.3 728.8,579.6 730.1,574 C731.6,567.7 734,560.4 736.4,554 C738.7,547.8 741.3,541.1 744.2,536 C746.6,531.7 749.2,527.3 752,525 C754,523.4 756.4,522.1 758.3,522.3 C760,522.5 761.7,524 763,525.5 C764.6,527.2 765.5,529.5 766.7,532.3 C768.5,536.6 770.4,544.1 771.7,549 C772.7,552.7 773.4,555.4 774.2,559 C775.1,563 776.1,567.7 777,572 L810.8,625 L810.8,660Z" fill="#3b4388"/>
<path d="M726.7,655 C726.4,648.3 725.7,642.2 725.8,635 C725.9,626.5 726.7,615.8 727.9,607.3 C728.9,600.1 730.4,593.2 732,587.3 C733.3,582.4 734.6,577.7 736.3,574 C737.7,571 739.1,568.2 741,566.5 C742.6,565.1 744.7,564.2 746.7,564 C748.7,563.8 751,564.5 753,565.5 C755.4,566.7 757.7,568.8 760,571 C762.7,573.5 765.3,577 768,580 L810.8,625 L810.8,660Z" fill="#2f2e5f"/>
<path d="M730.8,655 C730.5,648.3 729.8,641.7 729.9,635 C730,628.3 730.4,620.6 731.3,615 C732.1,610.7 733.5,607.3 734.5,604 C735.2,601.4 735.1,597.9 736.5,597 C737.8,596.2 740.1,597.2 742,598 C744.5,599.1 747.3,602 750,604 L810.8,625 L810.8,660Z" fill="#1b1b37"/>
<path d="M860,590 C864.4,587.2 868.5,583.2 873.3,581.5 C878,579.8 884,579.8 888.3,579.8 C891.6,579.8 894.7,579.6 897,580.6 C898.9,581.5 901.1,583.1 901.3,584.8 C901.6,586.9 898.8,589.7 896.7,592.3 C893.9,595.8 889.3,600 885,603.2 C880.5,606.6 875,609.1 870,612Z" fill="#bce3e6"/>
</g>
<g fill="none" stroke="#505050" stroke-width="1.0" stroke-linecap="butt">
<path d="M715,655 C714.7,651.7 714.5,648.3 714.3,645 C714.2,641.7 714.1,638.3 714.1,635 C714.1,631.7 714.1,628.3 714.3,625 C714.4,621.7 714.6,618.3 714.8,615 C715.1,611.7 715.4,608.3 715.8,605 C716.2,601.7 716.7,598.3 717.2,595 C717.7,591.7 718.3,588.3 719,585 C719.6,581.7 720.3,578.3 721.1,575 C721.8,571.7 722.7,568.3 723.5,565 C724.4,561.7 725.4,558.3 726.4,555 C727.4,551.7 728.4,548.3 729.5,545 C730.7,541.7 731.8,538.3 733,535 C734.3,531.7 735.5,528.3 736.8,525 C738.2,521.7 739.5,518.3 741,515 C742.4,511.7 743.9,508.3 745.4,505 C746.9,501.7 748.5,498.3 750.1,495 C751.7,491.7 753.4,488.3 755.1,485 C756.8,481.7 758.5,478.3 760.3,475 C762.1,471.7 764,468.3 765.9,465 C767.7,461.7 769.7,458.3 771.6,455 C773.6,451.7 775.6,448.3 777.6,445 C779.7,441.7 781.7,438.3 783.8,435 C786,431.7 788.1,428.3 790.3,425 C792.5,421.7 794.7,418.3 796.9,415" stroke-dasharray="29 10" stroke-dashoffset="19" stroke-width="1.2"/>
<path d="M796.9,415 C799.2,411.7 801.4,408.3 803.7,405 C806.1,401.7 808.4,398.3 810.7,395 C813.1,391.7 815.5,388.3 817.9,385 C820.3,381.7 822.8,378.3 825.2,375 C827.7,371.7 830.2,368.3 832.7,365 C835.2,361.7 837.7,358.3 840.3,355 C842.8,351.7 845.4,348.3 848,345 C850.6,341.7 853.2,338.3 855.8,335 C858.5,331.7 861.1,328.3 863.8,325 C866.5,321.7 869.2,318.3 871.9,315 C874.6,311.7 877.3,308.3 880,305 C882.8,301.7 885.5,298.3 888.3,295 C891.1,291.7 893.9,288.3 896.7,285 C899.5,281.7 902.3,278.3 905.2,275 C908,271.7 910.9,268.3 913.7,265 C916.6,261.7 919.5,258.3 922.4,255 C925.3,251.7 928.2,248.3 931.2,245 C934.1,241.7 937,238.3 940,235 C942.9,231.7 945.9,228.3 948.9,225 C951.9,221.7 954.9,218.3 957.9,215 C960.9,211.7 963.9,208.3 967,205 C970,201.7 973,198.3 976.1,195 C979.1,191.7 982.2,188.3 985.3,185 C988.4,181.7 991.4,178.3 994.5,175 C997.6,171.7 1000.7,168.3 1003.9,165 C1007,161.7 1010.1,158.3 1013.2,155 C1016.4,151.7 1019.5,148.3 1022.7,145 C1025.8,141.7 1029,138.3 1032.1,135 C1035.3,131.7 1038.5,128.3 1041.6,125 C1044.8,121.7 1048,118.3 1051.2,115 C1054.4,111.7 1057.6,108.3 1060.8,105 C1064,101.7 1067.2,98.3 1070.4,95 C1073.6,91.7 1076.8,88.3 1080,85 C1083.3,81.7 1086.5,78.3 1089.7,75 C1092.9,71.7 1096.5,68 1099.4,65 C1101.8,62.5 1103.6,60.6 1105.9,58.3 C1108.5,55.7 1111.5,52.6 1114.3,50.3 C1116.8,48.2 1119,45.4 1121.7,44.7 C1124.3,44.1 1127.2,45.6 1130,46" stroke-dasharray="30 8"/>
<path d="M1131,210 C1128.9,212.8 1126.1,214.9 1124.7,218.3 C1123,222.4 1123.4,228.8 1122.5,233.3 C1121.8,237 1121.1,240.5 1120,243.3 C1119.1,245.5 1118.2,246.8 1116.7,248.8 C1114.6,251.6 1112,254.4 1108.3,258.3 C1102,265 1091.2,275.2 1081.7,285 C1070.4,296.6 1057,310.6 1045,323.3 C1033.2,335.8 1021,348.9 1010,360.8 C1000,371.6 991.3,381.4 981.7,391.8 C971.9,402.4 961,414.2 951.7,423.8 C943.9,431.8 938,437.1 930,445.7 C919.2,457.2 905.3,473.9 893.3,487.3 C882,500 870.3,512.3 860,524 C850.8,534.4 841.4,545.2 834.2,554 C828.7,560.7 824.7,566 820,572" stroke-dasharray="30 8"/>
<path d="M717.5,655 C717.2,648.3 716.4,643 716.6,635 C716.9,623 718.3,604 720.6,590 C722.6,577.5 725.3,566.8 728.9,555 C732.7,542.5 737.7,529.5 743.1,517 C748.7,504.2 755.3,491 761.7,479 C767.8,467.8 774.6,456.6 780.6,447 C785.7,438.9 789.9,432.6 795.3,425 C801.3,416.5 808.4,407.5 815,398.7" stroke-dasharray="29 10" stroke-dashoffset="19" stroke-width="1.2"/>
<path d="M815,398.7 C824.4,385.9 833.5,373.1 843.3,360.3 C853.5,347 864.4,333.4 875,320.3 C885.5,307.3 895.7,294.5 906.7,282 C917.9,269.3 930,256.5 941.7,244.5 C952.8,233.1 964.7,222 975,211.8 C984,202.9 991.5,195.2 1000,186.7 C1008.7,177.9 1018.1,167.8 1026.7,160 C1034,153.4 1041.8,147 1048,142.5 C1052.5,139.3 1056.5,136.5 1060,135 C1062.5,133.9 1065.3,132.6 1066.7,133.3 C1067.8,133.9 1068.4,135.9 1068.5,137.5 C1068.6,139.6 1067.2,142.4 1066,145 C1064.5,148.2 1062.4,151 1060,155 C1056.4,160.9 1051.1,169.3 1046.7,176.7 C1042.2,184.3 1038.6,191.4 1033.3,200 C1026.4,211.3 1016.8,225.4 1008.3,238.3 C999.6,251.5 990.4,265.1 981.7,278.3 C973.2,291.2 965,303.9 956.7,316.7 C948.4,329.5 939.6,342.3 931.7,355 C924.1,367.3 917,380 910,391.8 C903.4,402.9 898,412 890.8,423.8 C881.8,438.7 869.2,458.1 860,474 C851.9,488 845.4,500.9 838.3,514 C831.5,526.7 823.8,540.8 818.3,551.5 C814.2,559.3 811.4,565.2 808,572" stroke-dasharray="30 8"/>
<path d="M720,655 C719.7,648.3 718.9,643 719.1,635 C719.4,623 720.8,604 723.1,590 C725.1,577.5 727.8,566.8 731.4,555 C735.2,542.5 740.2,529.5 745.6,517 C751.2,504.2 758.1,491 764.7,479 C771,467.7 777.9,456.5 784.4,447 C790,438.8 795.4,432.4 801,425 C806.7,417.4 812.5,409.7 818.3,402" stroke-dasharray="29 10" stroke-dashoffset="19" stroke-width="1.2"/>
<path d="M818.3,402 C823.9,395.3 829.4,388 835,382 C840,376.6 846,370.6 850,367.5 C852.3,365.7 854.2,364.8 856,364 C857.4,363.4 858.9,362.6 860,362.8 C861,363 862.1,364 862.6,365 C863.2,366.2 862.8,367.9 862.5,370 C862,373.7 860,380 858.3,385.3 C856.4,391.2 853.9,397.4 851.7,403.7 C849.4,410.2 847.6,416.5 845,423.8 C841.7,432.9 837,443.4 833.3,454 C829.2,465.6 825.4,478.8 821.7,490.7 C818.2,502.1 814.9,513.4 811.7,524 C808.8,533.6 805.7,543 803.3,551.5 C801.2,558.8 799.8,565.2 798,572" stroke-dasharray="30 8"/>
<path d="M722.5,655 C722.2,648.3 721.4,643 721.6,635 C721.9,623 723.3,604 725.6,590 C727.6,577.5 730.4,566.4 733.9,555 C737.3,543.8 741.6,533 746.4,522.3 C751.1,511.5 757,499.7 762.5,490.7 C767,483.5 771.5,478.2 776,472" stroke-dasharray="29 10" stroke-dashoffset="19" stroke-width="1.2"/>
<path d="M776,472 C778.3,470 780.6,467.5 783,466 C785,464.7 787.5,463 789.2,463.2 C790.5,463.3 791.8,464.3 792.5,465.5 C793.4,467 793.3,469.1 793.5,472 C793.8,477.9 793.1,490.2 792.5,499 C791.9,507.5 790.7,515.4 790,524 C789.3,533.1 788.8,543.7 788.3,552.3 C787.8,559.5 787.4,565.4 787,572" stroke-dasharray="30 8"/>
<path d="M724.7,655 C724.4,648.3 723.6,643 723.8,635 C724,623 726.2,601.2 727.6,590 C728.4,583.3 728.8,579.6 730.1,574 C731.6,567.7 734,560.4 736.4,554 C738.7,547.8 741.6,542 744.2,536" stroke-dasharray="29 10" stroke-dashoffset="19" stroke-width="1.2"/>
<path d="M744.2,536 C746.8,532.3 749.2,527.3 752,525 C754,523.4 756.4,522.1 758.3,522.3 C760,522.5 761.7,524 763,525.5 C764.6,527.2 765.5,529.5 766.7,532.3 C768.5,536.6 770.4,544.1 771.7,549 C772.7,552.7 773.4,555.4 774.2,559 C775.1,563 776.1,567.7 777,572" stroke-dasharray="30 8"/>
<path d="M726.7,655 C726.4,648.3 725.7,642.2 725.8,635 C725.9,626.5 726.7,615.8 727.9,607.3 C728.9,600.1 730.4,593.2 732,587.3 C733.3,582.4 734.6,577.7 736.3,574 C737.7,571 739.1,568.2 741,566.5 C742.6,565.1 744.7,564.2 746.7,564 C748.7,563.8 751,564.5 753,565.5 C755.4,566.7 757.7,568.8 760,571 C762.7,573.5 765.3,577 768,580"/>
<path d="M730.8,655 C730.5,648.3 729.8,641.7 729.9,635 C730,628.3 730.4,620.6 731.3,615 C732.1,610.7 733.5,607.3 734.5,604 C735.2,601.4 735.1,597.9 736.5,597 C737.8,596.2 740.1,597.2 742,598 C744.5,599.1 747.3,602 750,604"/>
<path d="M860,590 C864.4,587.2 868.5,583.2 873.3,581.5 C878,579.8 884,579.8 888.3,579.8 C891.6,579.8 894.7,579.6 897,580.6 C898.9,581.5 901.1,583.1 901.3,584.8 C901.6,586.9 898.8,589.7 896.7,592.3 C893.9,595.8 889.3,600 885,603.2 C880.5,606.6 875,609.1 870,612"/>
</g>
</g>
<g clip-path="url(#lob)">
<g stroke="none">
<path d="M715,616.5 C714.7,619.8 714.5,623.2 714.3,626.5 C714.2,629.8 714.1,633.2 714.1,636.5 C714.1,639.8 714.1,643.2 714.3,646.5 C714.4,649.8 714.6,653.2 714.8,656.5 C715.1,659.8 715.4,663.2 715.8,666.5 C716.2,669.8 716.7,673.2 717.2,676.5 C717.7,679.8 718.3,683.2 719,686.5 C719.6,689.8 720.3,693.2 721.1,696.5 C721.8,699.8 722.7,703.2 723.5,706.5 C724.4,709.8 725.4,713.2 726.4,716.5 C727.4,719.8 728.4,723.2 729.5,726.5 C730.7,729.8 731.8,733.2 733,736.5 C734.3,739.8 735.5,743.2 736.8,746.5 C738.2,749.8 739.5,753.2 741,756.5 C742.4,759.8 743.9,763.2 745.4,766.5 C746.9,769.8 748.5,773.2 750.1,776.5 C751.7,779.8 753.4,783.2 755.1,786.5 C756.8,789.8 758.5,793.2 760.3,796.5 C762.1,799.8 764,803.2 765.9,806.5 C767.7,809.8 769.7,813.2 771.6,816.5 C773.6,819.8 775.6,823.2 777.6,826.5 C779.7,829.8 781.7,833.2 783.8,836.5 C786,839.8 788.1,843.2 790.3,846.5 C792.5,849.8 794.7,853.2 796.9,856.5 C799.2,859.8 801.4,863.2 803.7,866.5 C806.1,869.8 808.4,873.2 810.7,876.5 C813.1,879.8 815.5,883.2 817.9,886.5 C820.3,889.8 822.8,893.2 825.2,896.5 C827.7,899.8 830.2,903.2 832.7,906.5 C835.2,909.8 837.7,913.2 840.3,916.5 C842.8,919.8 845.4,923.2 848,926.5 C850.6,929.8 853.2,933.2 855.8,936.5 C858.5,939.8 861.1,943.2 863.8,946.5 C866.5,949.8 869.2,953.2 871.9,956.5 C874.6,959.8 877.3,963.2 880,966.5 C882.8,969.8 885.5,973.2 888.3,976.5 C891.1,979.8 893.9,983.2 896.7,986.5 C899.5,989.8 902.3,993.2 905.2,996.5 C908,999.8 910.9,1003.2 913.7,1006.5 C916.6,1009.8 919.5,1013.2 922.4,1016.5 C925.3,1019.8 928.2,1023.2 931.2,1026.5 C934.1,1029.8 937,1033.2 940,1036.5 C942.9,1039.8 945.9,1043.2 948.9,1046.5 C951.9,1049.8 954.9,1053.2 957.9,1056.5 C960.9,1059.8 963.9,1063.2 967,1066.5 C970,1069.8 973,1073.2 976.1,1076.5 C979.1,1079.8 982.2,1083.2 985.3,1086.5 C988.4,1089.8 991.4,1093.2 994.5,1096.5 C997.6,1099.8 1000.7,1103.2 1003.9,1106.5 C1007,1109.8 1010.1,1113.2 1013.2,1116.5 C1016.4,1119.8 1019.5,1123.2 1022.7,1126.5 C1025.8,1129.8 1029,1133.2 1032.1,1136.5 C1035.3,1139.8 1038.5,1143.2 1041.6,1146.5 C1044.8,1149.8 1048,1153.2 1051.2,1156.5 C1054.4,1159.8 1057.6,1163.2 1060.8,1166.5 C1064,1169.8 1067.2,1173.2 1070.4,1176.5 C1073.6,1179.8 1076.8,1183.2 1080,1186.5 C1083.3,1189.8 1086.5,1193.2 1089.7,1196.5 C1092.9,1199.8 1096.5,1203.5 1099.4,1206.5 C1101.8,1209 1103.6,1210.9 1105.9,1213.2 C1108.5,1215.8 1111.5,1218.9 1114.3,1221.2 C1116.8,1223.3 1119,1226.1 1121.7,1226.8 C1124.3,1227.4 1127.2,1225.9 1130,1225.5 L1131,1061.5 C1128.9,1058.7 1126.1,1056.6 1124.7,1053.2 C1123,1049.1 1123.4,1042.7 1122.5,1038.2 C1121.8,1034.5 1121.1,1031 1120,1028.2 C1119.1,1026 1118.2,1024.7 1116.7,1022.7 C1114.6,1019.9 1112,1017.1 1108.3,1013.2 C1102,1006.5 1091.2,996.3 1081.7,986.5 C1070.4,974.9 1057,960.9 1045,948.2 C1033.2,935.7 1021,922.6 1010,910.7 C1000,899.9 991.3,890.1 981.7,879.7 C971.9,869.1 961,857.3 951.7,847.7 C943.9,839.7 938,834.4 930,825.8 C919.2,814.3 905.3,797.6 893.3,784.2 C882,771.5 870.3,759.2 860,747.5 C850.8,737.1 841.4,726.3 834.2,717.5 C828.7,710.8 824.7,705.5 820,699.5 L810.8,646.5 L810.8,611.5Z" fill="#6ab0ca"/>
<path d="M717.5,616.5 C717.2,623.2 716.4,628.5 716.6,636.5 C716.9,648.5 718.3,667.5 720.6,681.5 C722.6,694 725.3,704.7 728.9,716.5 C732.7,729 737.7,742 743.1,754.5 C748.7,767.3 755.3,780.5 761.7,792.5 C767.8,803.7 774.6,814.9 780.6,824.5 C785.7,832.6 789.9,838.9 795.3,846.5 C801.3,855 807.9,863.2 815,872.8 C823.6,884.4 833.5,898.4 843.3,911.2 C853.5,924.5 864.4,938.1 875,951.2 C885.5,964.2 895.7,977 906.7,989.5 C917.9,1002.2 930,1015 941.7,1027 C952.8,1038.4 964.7,1049.5 975,1059.7 C984,1068.6 991.5,1076.3 1000,1084.8 C1008.7,1093.6 1018.1,1103.7 1026.7,1111.5 C1034,1118.1 1041.8,1124.5 1048,1129 C1052.5,1132.2 1056.5,1135 1060,1136.5 C1062.5,1137.6 1065.3,1138.9 1066.7,1138.2 C1067.8,1137.6 1068.4,1135.6 1068.5,1134 C1068.6,1131.9 1067.2,1129.1 1066,1126.5 C1064.5,1123.3 1062.4,1120.5 1060,1116.5 C1056.4,1110.6 1051.1,1102.2 1046.7,1094.8 C1042.2,1087.2 1038.6,1080.1 1033.3,1071.5 C1026.4,1060.2 1016.8,1046.1 1008.3,1033.2 C999.6,1020 990.4,1006.4 981.7,993.2 C973.2,980.3 965,967.6 956.7,954.8 C948.4,942 939.6,929.2 931.7,916.5 C924.1,904.2 917,891.5 910,879.7 C903.4,868.6 898,859.5 890.8,847.7 C881.8,832.8 869.2,813.4 860,797.5 C851.9,783.5 845.4,770.6 838.3,757.5 C831.5,744.8 823.8,730.7 818.3,720 C814.2,712.2 811.4,706.3 808,699.5 L810.8,646.5 L810.8,611.5Z" fill="#5295c0"/>
<path d="M720,616.5 C719.7,623.2 718.9,628.5 719.1,636.5 C719.4,648.5 720.8,667.5 723.1,681.5 C725.1,694 727.8,704.7 731.4,716.5 C735.2,729 740.2,742 745.6,754.5 C751.2,767.3 758.1,780.5 764.7,792.5 C771,803.8 777.9,815 784.4,824.5 C790,832.7 795.4,839.1 801,846.5 C806.7,854.1 812.5,862.2 818.3,869.5 C823.8,876.5 829.4,883.5 835,889.5 C840,894.9 846,900.9 850,904 C852.3,905.8 854.2,906.7 856,907.5 C857.4,908.1 858.9,908.9 860,908.7 C861,908.5 862.1,907.5 862.6,906.5 C863.2,905.3 862.8,903.6 862.5,901.5 C862,897.8 860,891.5 858.3,886.2 C856.4,880.3 853.9,874.1 851.7,867.8 C849.4,861.3 847.6,855 845,847.7 C841.7,838.6 837,828.1 833.3,817.5 C829.2,805.9 825.4,792.7 821.7,780.8 C818.2,769.4 814.9,758.1 811.7,747.5 C808.8,737.9 805.7,728.5 803.3,720 C801.2,712.7 799.8,706.3 798,699.5 L810.8,646.5 L810.8,611.5Z" fill="#437ab6"/>
<path d="M722.5,616.5 C722.2,623.2 721.4,628.5 721.6,636.5 C721.9,648.5 723.3,667.5 725.6,681.5 C727.6,694 730.4,705.1 733.9,716.5 C737.3,727.7 741.6,738.5 746.4,749.2 C751.1,760 757,771.8 762.5,780.8 C767,788 772,795.1 776,799.5 C778.5,802.3 780.6,804 783,805.5 C785,806.8 787.5,808.5 789.2,808.3 C790.5,808.2 791.8,807.2 792.5,806 C793.4,804.5 793.3,802.4 793.5,799.5 C793.8,793.6 793.1,781.3 792.5,772.5 C791.9,764 790.7,756.1 790,747.5 C789.3,738.4 788.8,727.8 788.3,719.2 C787.8,712 787.4,706.1 787,699.5 L810.8,646.5 L810.8,611.5Z" fill="#3e5da7"/>
<path d="M724.7,616.5 C724.4,623.2 723.6,628.5 723.8,636.5 C724,648.5 726.2,670.3 727.6,681.5 C728.4,688.2 728.8,691.9 730.1,697.5 C731.6,703.8 734,711.1 736.4,717.5 C738.7,723.7 741.3,730.4 744.2,735.5 C746.6,739.8 749.2,744.2 752,746.5 C754,748.1 756.4,749.4 758.3,749.2 C760,749 761.7,747.5 763,746 C764.6,744.3 765.5,742 766.7,739.2 C768.5,734.9 770.4,727.4 771.7,722.5 C772.7,718.8 773.4,716.1 774.2,712.5 C775.1,708.5 776.1,703.8 777,699.5 L810.8,646.5 L810.8,611.5Z" fill="#3b4388"/>
<path d="M726.7,616.5 C726.4,623.2 725.7,629.3 725.8,636.5 C725.9,645 726.7,655.7 727.9,664.2 C728.9,671.4 730.4,678.3 732,684.2 C733.3,689.1 734.6,693.8 736.3,697.5 C737.7,700.5 739.1,703.3 741,705 C742.6,706.4 744.7,707.3 746.7,707.5 C748.7,707.7 751,707 753,706 C755.4,704.8 757.7,702.7 760,700.5 C762.7,698 765.3,694.5 768,691.5 L810.8,646.5 L810.8,611.5Z" fill="#2f2e5f"/>
<path d="M730.8,616.5 C730.5,623.2 729.8,629.8 729.9,636.5 C730,643.2 730.4,650.9 731.3,656.5 C732.1,660.8 733.5,664.2 734.5,667.5 C735.2,670.1 735.1,673.6 736.5,674.5 C737.8,675.3 740.1,674.3 742,673.5 C744.5,672.4 747.3,669.5 750,667.5 L810.8,646.5 L810.8,611.5Z" fill="#1b1b37"/>
<path d="M860,681.5 C864.4,684.3 868.5,688.3 873.3,690 C878,691.7 884,691.7 888.3,691.7 C891.6,691.7 894.7,691.9 897,690.9 C898.9,690 901.1,688.4 901.3,686.7 C901.6,684.6 898.8,681.8 896.7,679.2 C893.9,675.7 889.3,671.5 885,668.3 C880.5,664.9 875,662.4 870,659.5Z" fill="#bce3e6"/>
</g>
<g fill="none" stroke="#000" stroke-width="1.1" stroke-linecap="butt">
<path d="M715,616.5 C714.7,619.8 714.5,623.2 714.3,626.5 C714.2,629.8 714.1,633.2 714.1,636.5 C714.1,639.8 714.1,643.2 714.3,646.5 C714.4,649.8 714.6,653.2 714.8,656.5 C715.1,659.8 715.4,663.2 715.8,666.5 C716.2,669.8 716.7,673.2 717.2,676.5 C717.7,679.8 718.3,683.2 719,686.5 C719.6,689.8 720.3,693.2 721.1,696.5 C721.8,699.8 722.7,703.2 723.5,706.5 C724.4,709.8 725.4,713.2 726.4,716.5 C727.4,719.8 728.4,723.2 729.5,726.5 C730.7,729.8 731.8,733.2 733,736.5 C734.3,739.8 735.5,743.2 736.8,746.5 C738.2,749.8 739.5,753.2 741,756.5 C742.4,759.8 743.9,763.2 745.4,766.5 C746.9,769.8 748.5,773.2 750.1,776.5 C751.7,779.8 753.4,783.2 755.1,786.5 C756.8,789.8 758.5,793.2 760.3,796.5 C762.1,799.8 764,803.2 765.9,806.5 C767.7,809.8 769.7,813.2 771.6,816.5 C773.6,819.8 775.6,823.2 777.6,826.5 C779.7,829.8 781.7,833.2 783.8,836.5 C786,839.8 788.1,843.2 790.3,846.5 C792.5,849.8 794.7,853.2 796.9,856.5" stroke-dasharray="29 10" stroke-dashoffset="19" stroke-width="1.3"/>
<path d="M796.9,856.5 C799.2,859.8 801.4,863.2 803.7,866.5 C806.1,869.8 808.4,873.2 810.7,876.5 C813.1,879.8 815.5,883.2 817.9,886.5 C820.3,889.8 822.8,893.2 825.2,896.5 C827.7,899.8 830.2,903.2 832.7,906.5 C835.2,909.8 837.7,913.2 840.3,916.5 C842.8,919.8 845.4,923.2 848,926.5 C850.6,929.8 853.2,933.2 855.8,936.5 C858.5,939.8 861.1,943.2 863.8,946.5 C866.5,949.8 869.2,953.2 871.9,956.5 C874.6,959.8 877.3,963.2 880,966.5 C882.8,969.8 885.5,973.2 888.3,976.5 C891.1,979.8 893.9,983.2 896.7,986.5 C899.5,989.8 902.3,993.2 905.2,996.5 C908,999.8 910.9,1003.2 913.7,1006.5 C916.6,1009.8 919.5,1013.2 922.4,1016.5 C925.3,1019.8 928.2,1023.2 931.2,1026.5 C934.1,1029.8 937,1033.2 940,1036.5 C942.9,1039.8 945.9,1043.2 948.9,1046.5 C951.9,1049.8 954.9,1053.2 957.9,1056.5 C960.9,1059.8 963.9,1063.2 967,1066.5 C970,1069.8 973,1073.2 976.1,1076.5 C979.1,1079.8 982.2,1083.2 985.3,1086.5 C988.4,1089.8 991.4,1093.2 994.5,1096.5 C997.6,1099.8 1000.7,1103.2 1003.9,1106.5 C1007,1109.8 1010.1,1113.2 1013.2,1116.5 C1016.4,1119.8 1019.5,1123.2 1022.7,1126.5 C1025.8,1129.8 1029,1133.2 1032.1,1136.5 C1035.3,1139.8 1038.5,1143.2 1041.6,1146.5 C1044.8,1149.8 1048,1153.2 1051.2,1156.5 C1054.4,1159.8 1057.6,1163.2 1060.8,1166.5 C1064,1169.8 1067.2,1173.2 1070.4,1176.5 C1073.6,1179.8 1076.8,1183.2 1080,1186.5 C1083.3,1189.8 1086.5,1193.2 1089.7,1196.5 C1092.9,1199.8 1096.5,1203.5 1099.4,1206.5 C1101.8,1209 1103.6,1210.9 1105.9,1213.2 C1108.5,1215.8 1111.5,1218.9 1114.3,1221.2 C1116.8,1223.3 1119,1226.1 1121.7,1226.8 C1124.3,1227.4 1127.2,1225.9 1130,1225.5" stroke-dasharray="30 8"/>
<path d="M1131,1061.5 C1128.9,1058.7 1126.1,1056.6 1124.7,1053.2 C1123,1049.1 1123.4,1042.7 1122.5,1038.2 C1121.8,1034.5 1121.1,1031 1120,1028.2 C1119.1,1026 1118.2,1024.7 1116.7,1022.7 C1114.6,1019.9 1112,1017.1 1108.3,1013.2 C1102,1006.5 1091.2,996.3 1081.7,986.5 C1070.4,974.9 1057,960.9 1045,948.2 C1033.2,935.7 1021,922.6 1010,910.7 C1000,899.9 991.3,890.1 981.7,879.7 C971.9,869.1 961,857.3 951.7,847.7 C943.9,839.7 938,834.4 930,825.8 C919.2,814.3 905.3,797.6 893.3,784.2 C882,771.5 870.3,759.2 860,747.5 C850.8,737.1 841.4,726.3 834.2,717.5 C828.7,710.8 824.7,705.5 820,699.5" stroke-dasharray="30 8"/>
<path d="M717.5,616.5 C717.2,623.2 716.4,628.5 716.6,636.5 C716.9,648.5 718.3,667.5 720.6,681.5 C722.6,694 725.3,704.7 728.9,716.5 C732.7,729 737.7,742 743.1,754.5 C748.7,767.3 755.3,780.5 761.7,792.5 C767.8,803.7 774.6,814.9 780.6,824.5 C785.7,832.6 789.9,838.9 795.3,846.5 C801.3,855 808.4,864 815,872.8" stroke-dasharray="29 10" stroke-dashoffset="19" stroke-width="1.3"/>
<path d="M815,872.8 C824.4,885.6 833.5,898.4 843.3,911.2 C853.5,924.5 864.4,938.1 875,951.2 C885.5,964.2 895.7,977 906.7,989.5 C917.9,1002.2 930,1015 941.7,1027 C952.8,1038.4 964.7,1049.5 975,1059.7 C984,1068.6 991.5,1076.3 1000,1084.8 C1008.7,1093.6 1018.1,1103.7 1026.7,1111.5 C1034,1118.1 1041.8,1124.5 1048,1129 C1052.5,1132.2 1056.5,1135 1060,1136.5 C1062.5,1137.6 1065.3,1138.9 1066.7,1138.2 C1067.8,1137.6 1068.4,1135.6 1068.5,1134 C1068.6,1131.9 1067.2,1129.1 1066,1126.5 C1064.5,1123.3 1062.4,1120.5 1060,1116.5 C1056.4,1110.6 1051.1,1102.2 1046.7,1094.8 C1042.2,1087.2 1038.6,1080.1 1033.3,1071.5 C1026.4,1060.2 1016.8,1046.1 1008.3,1033.2 C999.6,1020 990.4,1006.4 981.7,993.2 C973.2,980.3 965,967.6 956.7,954.8 C948.4,942 939.6,929.2 931.7,916.5 C924.1,904.2 917,891.5 910,879.7 C903.4,868.6 898,859.5 890.8,847.7 C881.8,832.8 869.2,813.4 860,797.5 C851.9,783.5 845.4,770.6 838.3,757.5 C831.5,744.8 823.8,730.7 818.3,720 C814.2,712.2 811.4,706.3 808,699.5" stroke-dasharray="30 8"/>
<path d="M720,616.5 C719.7,623.2 718.9,628.5 719.1,636.5 C719.4,648.5 720.8,667.5 723.1,681.5 C725.1,694 727.8,704.7 731.4,716.5 C735.2,729 740.2,742 745.6,754.5 C751.2,767.3 758.1,780.5 764.7,792.5 C771,803.8 777.9,815 784.4,824.5 C790,832.7 795.4,839.1 801,846.5 C806.7,854.1 812.5,861.8 818.3,869.5" stroke-dasharray="29 10" stroke-dashoffset="19" stroke-width="1.3"/>
<path d="M818.3,869.5 C823.9,876.2 829.4,883.5 835,889.5 C840,894.9 846,900.9 850,904 C852.3,905.8 854.2,906.7 856,907.5 C857.4,908.1 858.9,908.9 860,908.7 C861,908.5 862.1,907.5 862.6,906.5 C863.2,905.3 862.8,903.6 862.5,901.5 C862,897.8 860,891.5 858.3,886.2 C856.4,880.3 853.9,874.1 851.7,867.8 C849.4,861.3 847.6,855 845,847.7 C841.7,838.6 837,828.1 833.3,817.5 C829.2,805.9 825.4,792.7 821.7,780.8 C818.2,769.4 814.9,758.1 811.7,747.5 C808.8,737.9 805.7,728.5 803.3,720 C801.2,712.7 799.8,706.3 798,699.5" stroke-dasharray="30 8"/>
<path d="M722.5,616.5 C722.2,623.2 721.4,628.5 721.6,636.5 C721.9,648.5 723.3,667.5 725.6,681.5 C727.6,694 730.4,705.1 733.9,716.5 C737.3,727.7 741.6,738.5 746.4,749.2 C751.1,760 757,771.8 762.5,780.8 C767,788 771.5,793.3 776,799.5" stroke-dasharray="29 10" stroke-dashoffset="19" stroke-width="1.3"/>
<path d="M776,799.5 C778.3,801.5 780.6,804 783,805.5 C785,806.8 787.5,808.5 789.2,808.3 C790.5,808.2 791.8,807.2 792.5,806 C793.4,804.5 793.3,802.4 793.5,799.5 C793.8,793.6 793.1,781.3 792.5,772.5 C791.9,764 790.7,756.1 790,747.5 C789.3,738.4 788.8,727.8 788.3,719.2 C787.8,712 787.4,706.1 787,699.5" stroke-dasharray="30 8"/>
<path d="M724.7,616.5 C724.4,623.2 723.6,628.5 723.8,636.5 C724,648.5 726.2,670.3 727.6,681.5 C728.4,688.2 728.8,691.9 730.1,697.5 C731.6,703.8 734,711.1 736.4,717.5 C738.7,723.7 741.6,729.5 744.2,735.5" stroke-dasharray="29 10" stroke-dashoffset="19" stroke-width="1.3"/>
<path d="M744.2,735.5 C746.8,739.2 749.2,744.2 752,746.5 C754,748.1 756.4,749.4 758.3,749.2 C760,749 761.7,747.5 763,746 C764.6,744.3 765.5,742 766.7,739.2 C768.5,734.9 770.4,727.4 771.7,722.5 C772.7,718.8 773.4,716.1 774.2,712.5 C775.1,708.5 776.1,703.8 777,699.5" stroke-dasharray="30 8"/>
<path d="M726.7,616.5 C726.4,623.2 725.7,629.3 725.8,636.5 C725.9,645 726.7,655.7 727.9,664.2 C728.9,671.4 730.4,678.3 732,684.2 C733.3,689.1 734.6,693.8 736.3,697.5 C737.7,700.5 739.1,703.3 741,705 C742.6,706.4 744.7,707.3 746.7,707.5 C748.7,707.7 751,707 753,706 C755.4,704.8 757.7,702.7 760,700.5 C762.7,698 765.3,694.5 768,691.5"/>
<path d="M730.8,616.5 C730.5,623.2 729.8,629.8 729.9,636.5 C730,643.2 730.4,650.9 731.3,656.5 C732.1,660.8 733.5,664.2 734.5,667.5 C735.2,670.1 735.1,673.6 736.5,674.5 C737.8,675.3 740.1,674.3 742,673.5 C744.5,672.4 747.3,669.5 750,667.5"/>
<path d="M860,681.5 C864.4,684.3 868.5,688.3 873.3,690 C878,691.7 884,691.7 888.3,691.7 C891.6,691.7 894.7,691.9 897,690.9 C898.9,690 901.1,688.4 901.3,686.7 C901.6,684.6 898.8,681.8 896.7,679.2 C893.9,675.7 889.3,671.5 885,668.3 C880.5,664.9 875,662.4 870,659.5"/>
</g>
</g>

</g>
<ellipse cx="810.8" cy="635" rx="78.4" ry="83.4" fill="#fff" stroke="#000" stroke-width="1.4"/>
<path d="M653.8,3 V1268.5" stroke="#222" stroke-width="1.4" fill="none"/><g stroke="#555" stroke-width="1.1" fill="none"><path d="M646.4,1261.9 H653.8"/><path d="M646.4,1220.2 H653.8"/><path d="M646.4,1178.4 H653.8"/><path d="M642.5,1136.6 H653.8"/><path d="M646.4,1094.8 H653.8"/><path d="M646.4,1053 H653.8"/><path d="M646.4,1011.3 H653.8"/><path d="M642.5,969.5 H653.8"/><path d="M646.4,927.7 H653.8"/><path d="M646.4,885.9 H653.8"/><path d="M646.4,844.2 H653.8"/><path d="M642.5,802.4 H653.8"/><path d="M646.4,760.6 H653.8"/><path d="M646.4,718.8 H653.8"/><path d="M646.4,677.1 H653.8"/><path d="M642.5,635.3 H653.8"/><path d="M646.4,593.5 H653.8"/><path d="M646.4,551.8 H653.8"/><path d="M646.4,510 H653.8"/><path d="M642.5,468.2 H653.8"/><path d="M646.4,426.4 H653.8"/><path d="M646.4,384.6 H653.8"/><path d="M646.4,342.9 H653.8"/><path d="M642.5,301.1 H653.8"/><path d="M646.4,259.3 H653.8"/><path d="M646.4,217.5 H653.8"/><path d="M646.4,175.8 H653.8"/><path d="M642.5,134 H653.8"/><path d="M646.4,92.2 H653.8"/><path d="M646.4,50.4 H653.8"/><path d="M646.4,8.7 H653.8"/></g><text transform="translate(641.5,145) scale(1.000,1.120)" font-size="31" text-anchor="end">6</text><text transform="translate(641.5,312.1) scale(1.000,1.120)" font-size="31" text-anchor="end">4</text><text transform="translate(641.5,479.2) scale(1.000,1.120)" font-size="31" text-anchor="end">2</text><text transform="translate(641.5,646.3) scale(1.000,1.120)" font-size="31" text-anchor="end">0</text><text transform="translate(641.5,813.4) scale(1.000,1.120)" font-size="31" text-anchor="end">2</text><text transform="translate(641.5,980.5) scale(1.000,1.120)" font-size="31" text-anchor="end">4</text><text transform="translate(641.5,1147.6) scale(1.000,1.120)" font-size="31" text-anchor="end">6</text>
<text transform="translate(694.6,146.5) scale(1.000,1.085)" font-size="29.4">With FPPC</text>
<text transform="translate(694.6,1158) scale(1.000,1.085)" font-size="29.4">Without FPPC</text>
<text transform="translate(690.8,1241) scale(1.000,1.035)" font-size="42.3">(b)</text>
<text transform="translate(600.4,631.4) rotate(-90) scale(1.045,1)" font-size="39.2" font-style="italic">y/d</text>
<g shape-rendering="crispEdges"><rect x="709.3" y="2" width="14" height="39.3" fill="#eafcfd"/><rect x="722.7" y="2" width="27.5" height="39.3" fill="#bce3e6"/><rect x="749.6" y="2" width="27.5" height="39.3" fill="#8ecad6"/><rect x="776.5" y="2" width="27.5" height="39.3" fill="#6ab0ca"/><rect x="803.3" y="2" width="27.5" height="39.3" fill="#5295c0"/><rect x="830.2" y="2" width="27.5" height="39.3" fill="#437ab6"/><rect x="857.1" y="2" width="27.5" height="39.3" fill="#3e5da7"/><rect x="884" y="2" width="27.5" height="39.3" fill="#3b4388"/><rect x="910.8" y="2" width="27.5" height="39.3" fill="#2f2e5f"/><rect x="937.7" y="2" width="27.5" height="39.3" fill="#1b1b37"/><rect x="964.6" y="2" width="14" height="39.3" fill="#030512"/></g><path d="M776.4,2 V41.3" stroke="#333" stroke-width="0.8" fill="none"/><path d="M830.4,2 V41.3" stroke="#333" stroke-width="0.8" fill="none"/><path d="M884.1,2 V41.3" stroke="#333" stroke-width="0.8" fill="none"/>
<rect x="709.3" y="2" width="268.7" height="39.3" fill="none" stroke="#8a9aa0" stroke-width="0.7"/>
<text transform="translate(671,38.5) scale(1.000,1.100)" font-size="30" font-style="italic">P</text>
<text transform="translate(688.5,21.5) scale(1.000,1.100)" font-size="16">*</text>
<text transform="translate(722.7,73.2) scale(1.000,1.070)" font-size="25" text-anchor="middle">0.0</text>
<text transform="translate(776.4,73.2) scale(1.000,1.070)" font-size="25" text-anchor="middle">1.5</text>
<text transform="translate(830.2,73.2) scale(1.000,1.070)" font-size="25" text-anchor="middle">2.5</text>
<text transform="translate(883.9,73.2) scale(1.000,1.070)" font-size="25" text-anchor="middle">3.5</text>
<text transform="translate(937.7,73.2) scale(1.000,1.070)" font-size="25" text-anchor="middle">4.5</text>
<defs><clipPath id="domc"><path d="M1242.3,426.4 L1635,7.8 L1713.8,7.8 L1713.8,1263.4 L1635,1263.4 L1242.3,844.8Z"/></clipPath>
<clipPath id="upc"><rect x="0" y="0" width="1716" height="635"/></clipPath>
<clipPath id="loc"><rect x="0" y="635" width="1716" height="636"/></clipPath></defs>
<g clip-path="url(#domc)">
<path d="M1242.3,426.4 L1635,7.8 L1713.8,7.8 L1713.8,1263.4 L1635,1263.4 L1242.3,844.8Z" fill="#d44c54"/>
<g clip-path="url(#upc)">
<g stroke="none">
<path d="M1299.5,655 C1299.3,651.7 1299,648.3 1298.9,645 C1298.7,641.7 1298.7,638.3 1298.7,635 C1298.7,631.7 1298.8,628.3 1298.9,625 C1299,621.7 1299.2,618.3 1299.5,615 C1299.8,611.7 1300.1,608.3 1300.5,605 C1301,601.7 1301.4,598.3 1302,595 C1302.5,591.7 1303.1,588.3 1303.7,585 C1304.4,581.7 1305.1,578.3 1305.9,575 C1306.7,571.7 1307.5,568.3 1308.4,565 C1309.3,561.7 1310.3,558.3 1311.3,555 C1312.3,551.7 1313.4,548.3 1314.5,545 C1315.6,541.7 1316.8,538.3 1318,535 C1319.2,531.7 1320.5,528.3 1321.8,525 C1323.1,521.7 1324.5,518.3 1325.9,515 C1327.3,511.7 1328.8,508.3 1330.3,505 C1331.8,501.7 1333.4,498.3 1335,495 C1336.6,491.7 1338.2,488.3 1339.9,485 C1341.6,481.7 1343.4,478.3 1345.1,475 C1346.9,471.7 1348.7,468.3 1350.6,465 C1352.4,461.7 1354.3,458.3 1356.2,455 C1358.1,451.7 1360.1,448.3 1362.1,445 C1364.1,441.7 1366.1,438.3 1368.2,435 C1370.3,431.7 1372.4,428.3 1374.5,425 C1376.6,421.7 1378.8,418.3 1380.9,415 C1383.1,411.7 1385.3,408.3 1387.6,405 C1389.8,401.7 1392.1,398.3 1394.4,395 C1396.7,391.7 1399,388.3 1401.3,385 C1403.7,381.7 1406.1,378.3 1408.4,375 C1410.8,371.7 1413.3,368.3 1415.7,365 C1418.1,361.7 1420.6,358.3 1423.1,355 C1425.6,351.7 1428.1,348.3 1430.6,345 C1433.1,341.7 1435.7,338.3 1438.2,335 C1440.8,331.7 1443.4,328.3 1446,325 C1448.6,321.7 1451.3,318.3 1453.9,315 C1456.6,311.7 1459.3,308.3 1461.9,305 C1464.6,301.7 1467.4,298.3 1470.1,295 C1472.8,291.7 1475.6,288.3 1478.3,285 C1481.1,281.7 1483.9,278.3 1486.7,275 C1489.5,271.7 1492.3,268.3 1495.1,265 C1497.9,261.7 1500.8,258.3 1503.7,255 C1506.5,251.7 1509.4,248.3 1512.3,245 C1515.2,241.7 1518.1,238.3 1521,235 C1523.9,231.7 1526.9,228.3 1529.8,225 C1532.8,221.7 1535.7,218.3 1538.7,215 C1541.7,211.7 1544.7,208.3 1547.7,205 C1550.7,201.7 1553.7,198.3 1556.7,195 C1559.7,191.7 1562.8,188.3 1565.8,185 C1568.8,181.7 1571.9,178.3 1575,175 C1578,171.7 1581.1,168.3 1584.2,165 C1587.3,161.7 1590.3,158.3 1593.4,155 C1596.5,151.7 1599.7,148.3 1602.8,145 C1605.9,141.7 1609,138.3 1612.1,135 C1615.3,131.7 1618.4,128.3 1621.5,125 C1624.7,121.7 1627.8,118.3 1631,115 C1634.1,111.7 1637.3,108.3 1640.4,105 C1643.6,101.7 1646.8,98.3 1650,95 C1653.1,91.7 1656.3,88.3 1659.5,85 C1662.7,81.7 1665.8,78.3 1669,75 C1672.2,71.7 1675.4,68.3 1678.6,65 C1681.8,61.7 1685.2,58.1 1688.1,55 C1690.7,52.4 1692.8,50.2 1695.3,47.8 C1697.9,45.2 1700.5,42 1703.3,40 C1705.9,38.1 1708.7,36.1 1711.4,35.8 C1713.6,35.5 1715.8,36.9 1718,37.5 L1720,262 C1717.9,264.7 1715.1,266.6 1713.8,270 C1712.1,274.4 1713.2,281.3 1712.5,286.7 C1711.9,291.8 1711.5,297 1710,301.7 C1708.5,306.4 1706.4,310.9 1703.3,315 C1699.9,319.6 1695.4,322.2 1690,327.5 C1681,336.3 1666.1,352.1 1655,363.3 C1645.1,373.4 1636.2,382 1626.7,391.8 C1616.8,402.1 1607.7,412.8 1596.7,423.8 C1584.3,436.2 1566.9,451.9 1555.8,462.3 C1548.3,469.3 1544,473.3 1536.7,480 C1526.8,489.1 1513.1,502.1 1501.7,511.7 C1491.5,520.3 1482.1,527.3 1471.7,535 C1460.8,543.1 1447,552.4 1437.5,559.2 C1430.7,564.1 1425.8,567.7 1420,572 L1399.2,625 L1399.2,660Z" fill="#df5e53"/>
<path d="M1301,655 C1300.7,648.3 1300,643 1300.2,635 C1300.5,623 1302,604 1304.4,590 C1306.5,577.5 1309.3,566.8 1313,555 C1316.9,542.5 1321.8,529.5 1327.3,517 C1332.8,504.2 1339.5,491 1346,479 C1352.1,467.8 1358.9,456.6 1364.9,447 C1370,438.9 1374.3,432.6 1379.5,425 C1385.2,416.5 1391.4,408 1398,398.5 C1405.8,387.3 1414.4,374.4 1423.3,362 C1432.8,348.9 1442.8,335 1453.3,322 C1463.9,308.9 1475.6,296.4 1486.7,283.7 C1497.7,271.1 1508.5,258.2 1519.5,246 C1530.1,234.2 1540.4,223.8 1551.5,211.8 C1563.8,198.6 1577.5,183.5 1590,170 C1601.9,157.1 1613.2,144.7 1625,132.5 C1636.6,120.4 1648.9,107.9 1660,97 C1669.9,87.3 1680.3,77.4 1688.3,70 C1694,64.7 1699.5,59.1 1703.3,56.7 C1705.3,55.5 1707.1,54.2 1708.3,54.7 C1709.6,55.2 1710.2,57.5 1710.8,60 C1711.9,64.9 1711.2,74.8 1711,83.3 C1710.8,93.4 1710.2,106.4 1709.2,116.7 C1708.4,125.7 1708.1,134.2 1705.8,141.7 C1703.7,148.5 1700.4,153.9 1696.7,160 C1692.6,166.7 1686.6,173.1 1681.7,180 C1676.6,187 1672.5,193.4 1666.7,201.7 C1658.8,213 1647.3,228.4 1638.3,241.7 C1629.6,254.5 1621.6,267.2 1613.3,280 C1605,292.8 1596.6,305.5 1588.3,318.3 C1580,331.1 1571.3,344.1 1563.3,356.7 C1555.8,368.6 1548.5,380.3 1541.7,391.8 C1535.2,402.7 1530.8,412.1 1523.3,424 C1513.4,439.7 1498.7,460.2 1486.7,477.3 C1475.4,493.4 1464.6,510.5 1453.3,524 C1443.7,535.5 1431.5,545 1424.2,554 C1418.9,560.5 1416.1,566 1412,572 L1399.2,625 L1399.2,660Z" fill="#e87156"/>
<path d="M1302.5,655 C1302.2,648.3 1301.5,643 1301.7,635 C1302,623 1303.5,604 1305.9,590 C1308,577.5 1310.8,566.8 1314.6,555 C1318.5,542.5 1323.7,529.5 1329.3,517 C1335,504.2 1341.7,491 1348.5,479 C1355,467.7 1362.5,456.6 1368.9,447 C1374.4,438.9 1379.4,432.5 1384.5,425 C1389.7,417.3 1393.8,410.3 1400,401.5 C1408.2,389.7 1419.6,374.5 1430,361 C1440.7,347.1 1453.2,331.2 1463.3,319.5 C1471.1,310.4 1478.4,302.5 1485,296 C1490,291 1494.8,286.5 1499,283.5 C1502.1,281.3 1505.9,278.1 1507.5,278.7 C1508.5,279.1 1508.9,281 1509,282.5 C1509.2,284.8 1508.1,287.4 1507,291 C1505,297.5 1500.2,308.1 1496.7,318 C1492.5,329.8 1488.2,344.2 1484,357 C1479.9,369.5 1475.6,382.3 1472,394 C1468.8,404.5 1466.6,413.2 1463.3,424 C1459.4,436.8 1455.4,451.3 1450,465.7 C1444,481.8 1435.6,500.6 1428.3,515.7 C1422,528.8 1413.8,541.1 1409.2,551.5 C1405.8,559.1 1404.4,565.2 1402,572 L1399.2,625 L1399.2,660Z" fill="#ee865f"/>
<path d="M1304,655 C1303.7,648.3 1303,643 1303.2,635 C1303.5,623 1304.9,604 1307.4,590 C1309.5,577.5 1312.5,566.8 1316.3,555 C1320.3,542.5 1325.6,529.5 1331.3,517 C1337.1,504.2 1344.1,491 1351,479 C1357.6,467.7 1365.8,455.9 1371.9,447 C1376.5,440.4 1380.6,434.7 1384.3,430 C1387.1,426.5 1389.6,423.5 1392,421 C1393.9,419 1395.7,417.1 1397.5,416 C1398.9,415.2 1400.7,414.1 1401.7,414.5 C1402.6,414.9 1403,416.4 1403.3,418 C1403.9,420.8 1403.1,424.7 1403,430 C1402.8,440.1 1403.1,459.5 1402.6,474 C1402.1,488.1 1401.8,502.4 1400,515.7 C1398.3,528.2 1394.5,541.2 1392.5,551.5 C1391,559.3 1390.2,565.2 1389,572 L1399.2,625 L1399.2,660Z" fill="#f29b6b"/>
<path d="M1305.5,655 C1305.2,648.3 1304.5,643 1304.7,635 C1305,623 1306.4,604 1308.9,590 C1311,577.5 1314.4,565.3 1318,555 C1321,546.4 1324.8,539 1328.1,532 C1331.1,525.9 1334,520.1 1336.9,515 C1339.4,510.6 1342.3,506.4 1344.2,503 C1345.6,500.5 1345.9,498.4 1347.5,496.5 C1349.2,494.5 1352.7,491 1354.2,491.5 C1355.8,492 1355.7,497.1 1356.7,499.8 C1357.7,502.4 1358.7,504.2 1360,507.3 C1362.2,512.4 1366.2,521 1368.3,527.3 C1370,532.6 1371.1,537.7 1372,542.5 C1372.8,546.8 1373.3,550.5 1373.8,555 C1374.4,560.2 1374.6,566.3 1375,572 L1399.2,625 L1399.2,660Z" fill="#f6af79"/>
<path d="M1307.5,655 C1307.5,648.3 1307.4,641.8 1307.5,635 C1307.6,627.9 1307.7,620 1308.3,613.3 C1308.9,607.4 1309.8,602.2 1310.8,596.7 C1311.8,591.1 1312.9,585.2 1314.2,580 C1315.4,575.3 1317,570.8 1318.3,566.7 C1319.5,563.1 1320.5,559.8 1321.7,556.7 C1322.8,553.9 1323.6,550.8 1325,549 C1326,547.7 1327.2,546.3 1328.3,546.3 C1329.4,546.3 1330.7,548 1331.7,549.2 C1332.9,550.6 1333.4,552.9 1335,554.6 C1337,556.8 1340.6,558.6 1343.3,560.8 C1346.1,563.1 1348.8,565.6 1351.7,568.3 C1355,571.3 1358.6,574.8 1362,578 L1399.2,625 L1399.2,660Z" fill="#f9c489"/>
<path d="M1309.2,655 C1309.2,648.3 1309.1,641.8 1309.2,635 C1309.3,627.8 1308.7,618.2 1310,613 C1310.8,609.8 1311.5,607 1313.5,605.8 C1315.7,604.5 1319.7,605.2 1323,606 C1326.9,607 1331,610 1335,612 L1399.2,625 L1399.2,660Z" fill="#fbd89c"/>
<path d="M1450,583 C1453.1,581.4 1455.8,579.2 1459.2,578.3 C1463,577.3 1468.3,577.3 1471.7,577.5 C1474,577.6 1476.4,577.6 1477.5,578.5 C1478.2,579.1 1478.7,580.1 1478.5,581 C1478.3,582.2 1476.6,583.8 1475,585 C1472.8,586.7 1469,587.8 1465.8,589.2 C1462.3,590.8 1458.6,592.4 1455,594Z" fill="#c73c59"/>
<path d="M1460,604 C1464.2,602.9 1466.6,602.3 1472.5,600.8 C1486.9,597.3 1522.7,589.7 1546.7,583.3 C1569.6,577.2 1591.1,569.7 1613.3,563.3 C1635.5,556.9 1665.1,548.8 1680,545 C1687.5,543.1 1692.7,541.7 1697,541 C1699.6,540.6 1701.4,540.1 1703.3,540.3 C1705,540.5 1706.8,541 1708,542 C1709.2,542.9 1709.8,544.3 1710.5,546 C1711.5,548.3 1711.9,551.8 1712.5,555 C1713.2,558.5 1712.9,563.4 1714.5,566 C1715.8,568 1718.2,568.7 1720,570 L1720,660 L1399.2,660Z" fill="#df5e53"/>
<path d="M1460,607 C1464.4,606.3 1467.1,605.9 1473.3,605 C1487.9,602.9 1524.6,597.8 1546.7,595 C1564.9,592.7 1578.8,590.6 1596.7,589.2 C1617.3,587.5 1646.1,586.6 1663.3,586.2 C1674.2,586 1683.3,585.7 1690,586.2 C1694.2,586.5 1697.1,586.6 1700,587.8 C1702.6,588.9 1705,590.3 1706.7,592.5 C1708.7,595.1 1709.5,599 1710.3,603 C1711.3,607.9 1711.4,614.5 1711.6,620 C1711.8,625.2 1711.7,629.4 1711.7,635 C1711.7,642.3 1711.7,651.7 1711.7,660 L1399.2,660Z" fill="#e87156"/>
<path d="M1460,610.5 C1464.7,610.2 1468.3,610 1474.2,609.7 C1484,609.2 1498.5,608.4 1513.3,608 C1532.6,607.5 1557.8,607.3 1580,607.7 C1602.2,608.1 1628.3,608.9 1646.7,610.3 C1659.7,611.3 1672.2,612.5 1680,614.2 C1684.4,615.2 1687.3,615.8 1690,617.5 C1692.3,618.9 1694.1,620.9 1695.5,623 C1696.9,625.1 1697.8,627.8 1698.3,630 C1698.7,631.8 1698.6,632.7 1698.7,635 C1698.9,640.1 1698.7,651.7 1698.7,660 L1399.2,660Z" fill="#ee865f"/>
<path d="M1460,614.5 C1465.3,614.7 1470,614.8 1475.8,615 C1483,615.3 1491.5,615.3 1500,616.3 C1509.5,617.4 1521.1,619.4 1530,621.7 C1537.4,623.6 1544.9,626.3 1550,628.3 C1553.3,629.6 1556.2,630.6 1558,632 C1559.2,632.9 1560.4,633.8 1560.5,635 C1560.7,636.4 1558.8,638.3 1558,640 L1399.2,660Z" fill="#f29b6b"/>
</g>
<g fill="none" stroke="#505050" stroke-width="1.15" stroke-linecap="butt">
<path d="M1299.5,655 C1299.3,651.7 1299,648.3 1298.9,645 C1298.7,641.7 1298.7,638.3 1298.7,635 C1298.7,631.7 1298.8,628.3 1298.9,625 C1299,621.7 1299.2,618.3 1299.5,615 C1299.8,611.7 1300.1,608.3 1300.5,605 C1301,601.7 1301.4,598.3 1302,595 C1302.5,591.7 1303.1,588.3 1303.7,585 C1304.4,581.7 1305.1,578.3 1305.9,575 C1306.7,571.7 1307.5,568.3 1308.4,565 C1309.3,561.7 1310.3,558.3 1311.3,555 C1312.3,551.7 1313.4,548.3 1314.5,545 C1315.6,541.7 1316.8,538.3 1318,535 C1319.2,531.7 1320.5,528.3 1321.8,525 C1323.1,521.7 1324.5,518.3 1325.9,515 C1327.3,511.7 1328.8,508.3 1330.3,505 C1331.8,501.7 1333.4,498.3 1335,495 C1336.6,491.7 1338.2,488.3 1339.9,485 C1341.6,481.7 1343.4,478.3 1345.1,475 C1346.9,471.7 1348.7,468.3 1350.6,465 C1352.4,461.7 1354.3,458.3 1356.2,455 C1358.1,451.7 1360.1,448.3 1362.1,445 C1364.1,441.7 1366.1,438.3 1368.2,435 C1370.3,431.7 1372.4,428.3 1374.5,425 C1376.6,421.7 1378.8,418.3 1380.9,415" stroke-dasharray="29 10" stroke-dashoffset="19" stroke-width="1.4"/>
<path d="M1380.9,415 C1383.2,411.7 1385.3,408.3 1387.6,405 C1389.8,401.7 1392.1,398.3 1394.4,395 C1396.7,391.7 1399,388.3 1401.3,385 C1403.7,381.7 1406.1,378.3 1408.4,375 C1410.8,371.7 1413.3,368.3 1415.7,365 C1418.1,361.7 1420.6,358.3 1423.1,355 C1425.6,351.7 1428.1,348.3 1430.6,345 C1433.1,341.7 1435.7,338.3 1438.2,335 C1440.8,331.7 1443.4,328.3 1446,325 C1448.6,321.7 1451.3,318.3 1453.9,315 C1456.6,311.7 1459.3,308.3 1461.9,305 C1464.6,301.7 1467.4,298.3 1470.1,295 C1472.8,291.7 1475.6,288.3 1478.3,285 C1481.1,281.7 1483.9,278.3 1486.7,275 C1489.5,271.7 1492.3,268.3 1495.1,265 C1497.9,261.7 1500.8,258.3 1503.7,255 C1506.5,251.7 1509.4,248.3 1512.3,245 C1515.2,241.7 1518.1,238.3 1521,235 C1523.9,231.7 1526.9,228.3 1529.8,225 C1532.8,221.7 1535.7,218.3 1538.7,215 C1541.7,211.7 1544.7,208.3 1547.7,205 C1550.7,201.7 1553.7,198.3 1556.7,195 C1559.7,191.7 1562.8,188.3 1565.8,185 C1568.8,181.7 1571.9,178.3 1575,175 C1578,171.7 1581.1,168.3 1584.2,165 C1587.3,161.7 1590.3,158.3 1593.4,155 C1596.5,151.7 1599.7,148.3 1602.8,145 C1605.9,141.7 1609,138.3 1612.1,135 C1615.3,131.7 1618.4,128.3 1621.5,125 C1624.7,121.7 1627.8,118.3 1631,115 C1634.1,111.7 1637.3,108.3 1640.4,105 C1643.6,101.7 1646.8,98.3 1650,95 C1653.1,91.7 1656.3,88.3 1659.5,85 C1662.7,81.7 1665.8,78.3 1669,75 C1672.2,71.7 1675.4,68.3 1678.6,65 C1681.8,61.7 1685.2,58.1 1688.1,55 C1690.7,52.4 1692.8,50.2 1695.3,47.8 C1697.9,45.2 1700.5,42 1703.3,40 C1705.9,38.1 1708.7,36.1 1711.4,35.8 C1713.6,35.5 1715.8,36.9 1718,37.5" stroke-dasharray="30 8"/>
<path d="M1720,262 C1717.9,264.7 1715.1,266.6 1713.8,270 C1712.1,274.4 1713.2,281.3 1712.5,286.7 C1711.9,291.8 1711.5,297 1710,301.7 C1708.5,306.4 1706.4,310.9 1703.3,315 C1699.9,319.6 1695.4,322.2 1690,327.5 C1681,336.3 1666.1,352.1 1655,363.3 C1645.1,373.4 1636.2,382 1626.7,391.8 C1616.8,402.1 1607.7,412.8 1596.7,423.8 C1584.3,436.2 1566.9,451.9 1555.8,462.3 C1548.3,469.3 1544,473.3 1536.7,480 C1526.8,489.1 1513.1,502.1 1501.7,511.7 C1491.5,520.3 1482.1,527.3 1471.7,535 C1460.8,543.1 1447,552.4 1437.5,559.2 C1430.7,564.1 1425.8,567.7 1420,572" stroke-dasharray="30 8"/>
<path d="M1301,655 C1300.7,648.3 1300,643 1300.2,635 C1300.5,623 1302,604 1304.4,590 C1306.5,577.5 1309.3,566.8 1313,555 C1316.9,542.5 1321.8,529.5 1327.3,517 C1332.8,504.2 1339.5,491 1346,479 C1352.1,467.8 1358.9,456.6 1364.9,447 C1370,438.9 1374.3,432.6 1379.5,425 C1385.2,416.5 1391.8,407.3 1398,398.5" stroke-dasharray="29 10" stroke-dashoffset="19" stroke-width="1.4"/>
<path d="M1398,398.5 C1406.4,386.3 1414.4,374.4 1423.3,362 C1432.8,348.9 1442.8,335 1453.3,322 C1463.9,308.9 1475.6,296.4 1486.7,283.7 C1497.7,271.1 1508.5,258.2 1519.5,246 C1530.1,234.2 1540.4,223.8 1551.5,211.8 C1563.8,198.6 1577.5,183.5 1590,170 C1601.9,157.1 1613.2,144.7 1625,132.5 C1636.6,120.4 1648.9,107.9 1660,97 C1669.9,87.3 1680.3,77.4 1688.3,70 C1694,64.7 1699.5,59.1 1703.3,56.7 C1705.3,55.5 1707.1,54.2 1708.3,54.7 C1709.6,55.2 1710.2,57.5 1710.8,60 C1711.9,64.9 1711.2,74.8 1711,83.3 C1710.8,93.4 1710.2,106.4 1709.2,116.7 C1708.4,125.7 1708.1,134.2 1705.8,141.7 C1703.7,148.5 1700.4,153.9 1696.7,160 C1692.6,166.7 1686.6,173.1 1681.7,180 C1676.6,187 1672.5,193.4 1666.7,201.7 C1658.8,213 1647.3,228.4 1638.3,241.7 C1629.6,254.5 1621.6,267.2 1613.3,280 C1605,292.8 1596.6,305.5 1588.3,318.3 C1580,331.1 1571.3,344.1 1563.3,356.7 C1555.8,368.6 1548.5,380.3 1541.7,391.8 C1535.2,402.7 1530.8,412.1 1523.3,424 C1513.4,439.7 1498.7,460.2 1486.7,477.3 C1475.4,493.4 1464.6,510.5 1453.3,524 C1443.7,535.5 1431.5,545 1424.2,554 C1418.9,560.5 1416.1,566 1412,572" stroke-dasharray="30 8"/>
<path d="M1302.5,655 C1302.2,648.3 1301.5,643 1301.7,635 C1302,623 1303.5,604 1305.9,590 C1308,577.5 1310.8,566.8 1314.6,555 C1318.5,542.5 1323.7,529.5 1329.3,517 C1335,504.2 1341.7,491 1348.5,479 C1355,467.7 1362.5,456.6 1368.9,447 C1374.4,438.9 1379.4,432.5 1384.5,425 C1389.7,417.3 1394.8,409.3 1400,401.5" stroke-dasharray="29 10" stroke-dashoffset="19" stroke-width="1.4"/>
<path d="M1400,401.5 C1410,388 1419.6,374.5 1430,361 C1440.7,347.1 1453.2,331.2 1463.3,319.5 C1471.1,310.4 1478.4,302.5 1485,296 C1490,291 1494.8,286.5 1499,283.5 C1502.1,281.3 1505.9,278.1 1507.5,278.7 C1508.5,279.1 1508.9,281 1509,282.5 C1509.2,284.8 1508.1,287.4 1507,291 C1505,297.5 1500.2,308.1 1496.7,318 C1492.5,329.8 1488.2,344.2 1484,357 C1479.9,369.5 1475.6,382.3 1472,394 C1468.8,404.5 1466.6,413.2 1463.3,424 C1459.4,436.8 1455.4,451.3 1450,465.7 C1444,481.8 1435.6,500.6 1428.3,515.7 C1422,528.8 1413.8,541.1 1409.2,551.5 C1405.8,559.1 1404.4,565.2 1402,572" stroke-dasharray="30 8"/>
<path d="M1304,655 C1303.7,648.3 1303,643 1303.2,635 C1303.5,623 1304.9,604 1307.4,590 C1309.5,577.5 1312.5,566.8 1316.3,555 C1320.3,542.5 1325.6,529.5 1331.3,517 C1337.1,504.2 1344.1,491 1351,479 C1357.6,467.7 1365.8,455.9 1371.9,447 C1376.5,440.4 1380.2,435.7 1384.3,430" stroke-dasharray="29 10" stroke-dashoffset="19" stroke-width="1.4"/>
<path d="M1384.3,430 C1386.9,427 1389.6,423.5 1392,421 C1393.9,419 1395.7,417.1 1397.5,416 C1398.9,415.2 1400.7,414.1 1401.7,414.5 C1402.6,414.9 1403,416.4 1403.3,418 C1403.9,420.8 1403.1,424.7 1403,430 C1402.8,440.1 1403.1,459.5 1402.6,474 C1402.1,488.1 1401.8,502.4 1400,515.7 C1398.3,528.2 1394.5,541.2 1392.5,551.5 C1391,559.3 1390.2,565.2 1389,572" stroke-dasharray="30 8"/>
<path d="M1305.5,655 C1305.2,648.3 1304.5,643 1304.7,635 C1305,623 1306.4,604 1308.9,590 C1311,577.5 1314.4,565.3 1318,555 C1321,546.4 1324.8,539 1328.1,532 C1331.1,525.9 1334,520.1 1336.9,515 C1339.4,510.6 1341.8,507 1344.2,503" stroke-dasharray="29 10" stroke-dashoffset="19" stroke-width="1.4"/>
<path d="M1344.2,503 C1345.3,500.8 1345.9,498.4 1347.5,496.5 C1349.2,494.5 1352.7,491 1354.2,491.5 C1355.8,492 1355.7,497.1 1356.7,499.8 C1357.7,502.4 1358.7,504.2 1360,507.3 C1362.2,512.4 1366.2,521 1368.3,527.3 C1370,532.6 1371.1,537.7 1372,542.5 C1372.8,546.8 1373.3,550.5 1373.8,555 C1374.4,560.2 1374.6,566.3 1375,572" stroke-dasharray="30 8"/>
<path d="M1307.5,655 C1307.5,648.3 1307.4,641.8 1307.5,635 C1307.6,627.9 1307.7,620 1308.3,613.3 C1308.9,607.4 1309.8,602.2 1310.8,596.7 C1311.8,591.1 1312.9,585.2 1314.2,580 C1315.4,575.3 1316.9,571.1 1318.3,566.7" stroke-dasharray="29 10" stroke-dashoffset="19" stroke-width="1.4"/>
<path d="M1318.3,566.7 C1319.4,563.4 1320.5,559.8 1321.7,556.7 C1322.8,553.9 1323.6,550.8 1325,549 C1326,547.7 1327.2,546.3 1328.3,546.3 C1329.4,546.3 1330.7,548 1331.7,549.2 C1332.9,550.6 1333.4,552.9 1335,554.6 C1337,556.8 1340.6,558.6 1343.3,560.8 C1346.1,563.1 1348.8,565.6 1351.7,568.3 C1355,571.3 1358.6,574.8 1362,578"/>
<path d="M1309.2,655 C1309.2,648.3 1309.1,641.8 1309.2,635 C1309.3,627.8 1308.7,618.2 1310,613 C1310.8,609.8 1311.5,607 1313.5,605.8 C1315.7,604.5 1319.7,605.2 1323,606 C1326.9,607 1331,610 1335,612"/>
<path d="M1450,583 C1453.1,581.4 1455.8,579.2 1459.2,578.3 C1463,577.3 1468.3,577.3 1471.7,577.5 C1474,577.6 1476.4,577.6 1477.5,578.5 C1478.2,579.1 1478.7,580.1 1478.5,581 C1478.3,582.2 1476.6,583.8 1475,585 C1472.8,586.7 1469,587.8 1465.8,589.2 C1462.3,590.8 1458.6,592.4 1455,594"/>
<path d="M1460,604 C1464.2,602.9 1466.6,602.3 1472.5,600.8 C1486.9,597.3 1522.7,589.7 1546.7,583.3 C1569.6,577.2 1591.1,569.7 1613.3,563.3 C1635.5,556.9 1665.1,548.8 1680,545 C1687.5,543.1 1692.7,541.7 1697,541 C1699.6,540.6 1701.4,540.1 1703.3,540.3 C1705,540.5 1706.8,541 1708,542 C1709.2,542.9 1709.8,544.3 1710.5,546 C1711.5,548.3 1711.9,551.8 1712.5,555 C1713.2,558.5 1712.9,563.4 1714.5,566 C1715.8,568 1718.2,568.7 1720,570" stroke-dasharray="30 8"/>
<path d="M1460,607 C1464.4,606.3 1467.1,605.9 1473.3,605 C1487.9,602.9 1524.6,597.8 1546.7,595 C1564.9,592.7 1578.8,590.6 1596.7,589.2 C1617.3,587.5 1646.1,586.6 1663.3,586.2 C1674.2,586 1683.3,585.7 1690,586.2 C1694.2,586.5 1697.1,586.6 1700,587.8 C1702.6,588.9 1705,590.3 1706.7,592.5 C1708.7,595.1 1709.5,599 1710.3,603 C1711.3,607.9 1711.4,614.5 1711.6,620 C1711.8,625.2 1711.7,629.4 1711.7,635 C1711.7,642.3 1711.7,651.7 1711.7,660" stroke-dasharray="30 8"/>
<path d="M1460,610.5 C1464.7,610.2 1468.3,610 1474.2,609.7 C1484,609.2 1498.5,608.4 1513.3,608 C1532.6,607.5 1557.8,607.3 1580,607.7 C1602.2,608.1 1628.3,608.9 1646.7,610.3 C1659.7,611.3 1672.2,612.5 1680,614.2 C1684.4,615.2 1687.3,615.8 1690,617.5 C1692.3,618.9 1694.1,620.9 1695.5,623 C1696.9,625.1 1697.8,627.8 1698.3,630 C1698.7,631.8 1698.6,632.7 1698.7,635 C1698.9,640.1 1698.7,651.7 1698.7,660" stroke-dasharray="30 8"/>
<path d="M1460,614.5 C1465.3,614.7 1470,614.8 1475.8,615 C1483,615.3 1491.5,615.3 1500,616.3 C1509.5,617.4 1521.1,619.4 1530,621.7 C1537.4,623.6 1544.9,626.3 1550,628.3 C1553.3,629.6 1556.2,630.6 1558,632 C1559.2,632.9 1560.4,633.8 1560.5,635 C1560.7,636.4 1558.8,638.3 1558,640" stroke-dasharray="30 8"/>
</g>
</g>
<g clip-path="url(#loc)">
<g stroke="none">
<path d="M1299.5,616.2 C1299.3,619.5 1299,622.9 1298.9,626.2 C1298.7,629.5 1298.7,632.9 1298.7,636.2 C1298.7,639.5 1298.8,642.9 1298.9,646.2 C1299,649.5 1299.2,652.9 1299.5,656.2 C1299.8,659.5 1300.1,662.9 1300.5,666.2 C1301,669.5 1301.4,672.9 1302,676.2 C1302.5,679.5 1303.1,682.9 1303.7,686.2 C1304.4,689.5 1305.1,692.9 1305.9,696.2 C1306.7,699.5 1307.5,702.9 1308.4,706.2 C1309.3,709.5 1310.3,712.9 1311.3,716.2 C1312.3,719.5 1313.4,722.9 1314.5,726.2 C1315.6,729.5 1316.8,732.9 1318,736.2 C1319.2,739.5 1320.5,742.9 1321.8,746.2 C1323.1,749.5 1324.5,752.9 1325.9,756.2 C1327.3,759.5 1328.8,762.9 1330.3,766.2 C1331.8,769.5 1333.4,772.9 1335,776.2 C1336.6,779.5 1338.2,782.9 1339.9,786.2 C1341.6,789.5 1343.4,792.9 1345.1,796.2 C1346.9,799.5 1348.7,802.9 1350.6,806.2 C1352.4,809.5 1354.3,812.9 1356.2,816.2 C1358.1,819.5 1360.1,822.9 1362.1,826.2 C1364.1,829.5 1366.1,832.9 1368.2,836.2 C1370.3,839.5 1372.4,842.9 1374.5,846.2 C1376.6,849.5 1378.8,852.9 1380.9,856.2 C1383.1,859.5 1385.3,862.9 1387.6,866.2 C1389.8,869.5 1392.1,872.9 1394.4,876.2 C1396.7,879.5 1399,882.9 1401.3,886.2 C1403.7,889.5 1406.1,892.9 1408.4,896.2 C1410.8,899.5 1413.3,902.9 1415.7,906.2 C1418.1,909.5 1420.6,912.9 1423.1,916.2 C1425.6,919.5 1428.1,922.9 1430.6,926.2 C1433.1,929.5 1435.7,932.9 1438.2,936.2 C1440.8,939.5 1443.4,942.9 1446,946.2 C1448.6,949.5 1451.3,952.9 1453.9,956.2 C1456.6,959.5 1459.3,962.9 1461.9,966.2 C1464.6,969.5 1467.4,972.9 1470.1,976.2 C1472.8,979.5 1475.6,982.9 1478.3,986.2 C1481.1,989.5 1483.9,992.9 1486.7,996.2 C1489.5,999.5 1492.3,1002.9 1495.1,1006.2 C1497.9,1009.5 1500.8,1012.9 1503.7,1016.2 C1506.5,1019.5 1509.4,1022.9 1512.3,1026.2 C1515.2,1029.5 1518.1,1032.9 1521,1036.2 C1523.9,1039.5 1526.9,1042.9 1529.8,1046.2 C1532.8,1049.5 1535.7,1052.9 1538.7,1056.2 C1541.7,1059.5 1544.7,1062.9 1547.7,1066.2 C1550.7,1069.5 1553.7,1072.9 1556.7,1076.2 C1559.7,1079.5 1562.8,1082.9 1565.8,1086.2 C1568.8,1089.5 1571.9,1092.9 1575,1096.2 C1578,1099.5 1581.1,1102.9 1584.2,1106.2 C1587.3,1109.5 1590.3,1112.9 1593.4,1116.2 C1596.5,1119.5 1599.7,1122.9 1602.8,1126.2 C1605.9,1129.5 1609,1132.9 1612.1,1136.2 C1615.3,1139.5 1618.4,1142.9 1621.5,1146.2 C1624.7,1149.5 1627.8,1152.9 1631,1156.2 C1634.1,1159.5 1637.3,1162.9 1640.4,1166.2 C1643.6,1169.5 1646.8,1172.9 1650,1176.2 C1653.1,1179.5 1656.3,1182.9 1659.5,1186.2 C1662.7,1189.5 1665.8,1192.9 1669,1196.2 C1672.2,1199.5 1675.4,1202.9 1678.6,1206.2 C1681.8,1209.5 1685.2,1213.1 1688.1,1216.2 C1690.7,1218.8 1692.8,1221 1695.3,1223.4 C1697.9,1226 1700.5,1229.2 1703.3,1231.2 C1705.9,1233.1 1708.7,1235.1 1711.4,1235.4 C1713.6,1235.7 1715.8,1234.3 1718,1233.7 L1720,1009.2 C1717.9,1006.5 1715.1,1004.6 1713.8,1001.2 C1712.1,996.8 1713.2,989.9 1712.5,984.5 C1711.9,979.4 1711.5,974.2 1710,969.5 C1708.5,964.8 1706.4,960.3 1703.3,956.2 C1699.9,951.6 1695.4,949 1690,943.7 C1681,934.9 1666.1,919.1 1655,907.9 C1645.1,897.8 1636.2,889.2 1626.7,879.4 C1616.8,869.1 1607.7,858.4 1596.7,847.4 C1584.3,835 1566.9,819.3 1555.8,808.9 C1548.3,801.9 1544,797.9 1536.7,791.2 C1526.8,782.1 1513.1,769.1 1501.7,759.5 C1491.5,750.9 1482.1,743.9 1471.7,736.2 C1460.8,728.1 1447,718.8 1437.5,712 C1430.7,707.1 1425.8,703.5 1420,699.2 L1399.2,646.2 L1399.2,611.2Z" fill="#df5e53"/>
<path d="M1301,616.2 C1300.7,622.9 1300,628.2 1300.2,636.2 C1300.5,648.2 1302,667.2 1304.4,681.2 C1306.5,693.7 1309.3,704.4 1313,716.2 C1316.9,728.7 1321.8,741.7 1327.3,754.2 C1332.8,767 1339.5,780.2 1346,792.2 C1352.1,803.4 1358.9,814.6 1364.9,824.2 C1370,832.3 1374.3,838.6 1379.5,846.2 C1385.2,854.7 1391.4,863.2 1398,872.7 C1405.8,883.9 1414.4,896.8 1423.3,909.2 C1432.8,922.3 1442.8,936.2 1453.3,949.2 C1463.9,962.3 1475.6,974.8 1486.7,987.5 C1497.7,1000.1 1508.5,1013 1519.5,1025.2 C1530.1,1037 1540.4,1047.4 1551.5,1059.4 C1563.8,1072.6 1577.5,1087.7 1590,1101.2 C1601.9,1114.1 1613.2,1126.5 1625,1138.7 C1636.6,1150.8 1648.9,1163.3 1660,1174.2 C1669.9,1183.9 1680.3,1193.8 1688.3,1201.2 C1694,1206.5 1699.5,1212.1 1703.3,1214.5 C1705.3,1215.7 1707.1,1217 1708.3,1216.5 C1709.6,1216 1710.2,1213.7 1710.8,1211.2 C1711.9,1206.3 1711.2,1196.4 1711,1187.9 C1710.8,1177.8 1710.2,1164.8 1709.2,1154.5 C1708.4,1145.5 1708.1,1137 1705.8,1129.5 C1703.7,1122.7 1700.4,1117.3 1696.7,1111.2 C1692.6,1104.5 1686.6,1098.1 1681.7,1091.2 C1676.6,1084.2 1672.5,1077.8 1666.7,1069.5 C1658.8,1058.2 1647.3,1042.8 1638.3,1029.5 C1629.6,1016.7 1621.6,1004 1613.3,991.2 C1605,978.4 1596.6,965.7 1588.3,952.9 C1580,940.1 1571.3,927.1 1563.3,914.5 C1555.8,902.6 1548.5,890.9 1541.7,879.4 C1535.2,868.5 1530.8,859.1 1523.3,847.2 C1513.4,831.5 1498.7,811 1486.7,793.9 C1475.4,777.8 1464.6,760.7 1453.3,747.2 C1443.7,735.7 1431.5,726.2 1424.2,717.2 C1418.9,710.7 1416.1,705.2 1412,699.2 L1399.2,646.2 L1399.2,611.2Z" fill="#e87156"/>
<path d="M1302.5,616.2 C1302.2,622.9 1301.5,628.2 1301.7,636.2 C1302,648.2 1303.5,667.2 1305.9,681.2 C1308,693.7 1310.8,704.4 1314.6,716.2 C1318.5,728.7 1323.7,741.7 1329.3,754.2 C1335,767 1341.7,780.2 1348.5,792.2 C1355,803.5 1362.5,814.6 1368.9,824.2 C1374.4,832.3 1379.4,838.7 1384.5,846.2 C1389.7,853.9 1393.8,860.9 1400,869.7 C1408.2,881.5 1419.6,896.7 1430,910.2 C1440.7,924.1 1453.2,940 1463.3,951.7 C1471.1,960.8 1478.4,968.7 1485,975.2 C1490,980.2 1494.8,984.7 1499,987.7 C1502.1,989.9 1505.9,993.1 1507.5,992.5 C1508.5,992.1 1508.9,990.2 1509,988.7 C1509.2,986.4 1508.1,983.8 1507,980.2 C1505,973.7 1500.2,963.1 1496.7,953.2 C1492.5,941.4 1488.2,927 1484,914.2 C1479.9,901.7 1475.6,888.9 1472,877.2 C1468.8,866.7 1466.6,858 1463.3,847.2 C1459.4,834.4 1455.4,819.9 1450,805.5 C1444,789.4 1435.6,770.6 1428.3,755.5 C1422,742.4 1413.8,730.1 1409.2,719.7 C1405.8,712.1 1404.4,706 1402,699.2 L1399.2,646.2 L1399.2,611.2Z" fill="#ee865f"/>
<path d="M1304,616.2 C1303.7,622.9 1303,628.2 1303.2,636.2 C1303.5,648.2 1304.9,667.2 1307.4,681.2 C1309.5,693.7 1312.5,704.4 1316.3,716.2 C1320.3,728.7 1325.6,741.7 1331.3,754.2 C1337.1,767 1344.1,780.2 1351,792.2 C1357.6,803.5 1365.8,815.3 1371.9,824.2 C1376.5,830.8 1380.6,836.5 1384.3,841.2 C1387.1,844.7 1389.6,847.7 1392,850.2 C1393.9,852.2 1395.7,854.1 1397.5,855.2 C1398.9,856 1400.7,857.1 1401.7,856.7 C1402.6,856.3 1403,854.8 1403.3,853.2 C1403.9,850.4 1403.1,846.5 1403,841.2 C1402.8,831.1 1403.1,811.7 1402.6,797.2 C1402.1,783.1 1401.8,768.8 1400,755.5 C1398.3,743 1394.5,730 1392.5,719.7 C1391,711.9 1390.2,706 1389,699.2 L1399.2,646.2 L1399.2,611.2Z" fill="#f29b6b"/>
<path d="M1305.5,616.2 C1305.2,622.9 1304.5,628.2 1304.7,636.2 C1305,648.2 1306.4,667.2 1308.9,681.2 C1311,693.7 1314.4,705.9 1318,716.2 C1321,724.8 1324.8,732.2 1328.1,739.2 C1331.1,745.3 1334,751.1 1336.9,756.2 C1339.4,760.6 1342.3,764.8 1344.2,768.2 C1345.6,770.7 1345.9,772.8 1347.5,774.7 C1349.2,776.7 1352.7,780.2 1354.2,779.7 C1355.8,779.2 1355.7,774.1 1356.7,771.4 C1357.7,768.8 1358.7,767 1360,763.9 C1362.2,758.8 1366.2,750.2 1368.3,743.9 C1370,738.6 1371.1,733.5 1372,728.7 C1372.8,724.4 1373.3,720.7 1373.8,716.2 C1374.4,711 1374.6,704.9 1375,699.2 L1399.2,646.2 L1399.2,611.2Z" fill="#f6af79"/>
<path d="M1307.5,616.2 C1307.5,622.9 1307.4,629.4 1307.5,636.2 C1307.6,643.3 1307.7,651.2 1308.3,657.9 C1308.9,663.8 1309.8,669 1310.8,674.5 C1311.8,680.1 1312.9,686 1314.2,691.2 C1315.4,695.9 1317,700.4 1318.3,704.5 C1319.5,708.1 1320.5,711.4 1321.7,714.5 C1322.8,717.3 1323.6,720.4 1325,722.2 C1326,723.5 1327.2,724.9 1328.3,724.9 C1329.4,724.9 1330.7,723.2 1331.7,722 C1332.9,720.6 1333.4,718.3 1335,716.6 C1337,714.4 1340.6,712.6 1343.3,710.4 C1346.1,708.1 1348.8,705.6 1351.7,702.9 C1355,699.9 1358.6,696.4 1362,693.2 L1399.2,646.2 L1399.2,611.2Z" fill="#f9c489"/>
<path d="M1309.2,616.2 C1309.2,622.9 1309.1,629.4 1309.2,636.2 C1309.3,643.4 1308.7,653 1310,658.2 C1310.8,661.4 1311.5,664.2 1313.5,665.4 C1315.7,666.7 1319.7,666 1323,665.2 C1326.9,664.2 1331,661.2 1335,659.2 L1399.2,646.2 L1399.2,611.2Z" fill="#fbd89c"/>
<path d="M1450,688.2 C1453.1,689.8 1455.8,692 1459.2,692.9 C1463,693.9 1468.3,693.9 1471.7,693.7 C1474,693.6 1476.4,693.6 1477.5,692.7 C1478.2,692.1 1478.7,691.1 1478.5,690.2 C1478.3,689 1476.6,687.4 1475,686.2 C1472.8,684.5 1469,683.4 1465.8,682 C1462.3,680.4 1458.6,678.8 1455,677.2Z" fill="#c73c59"/>
<path d="M1460,667.2 C1464.2,668.3 1466.6,668.9 1472.5,670.4 C1486.9,673.9 1522.7,681.5 1546.7,687.9 C1569.6,694 1591.1,701.5 1613.3,707.9 C1635.5,714.3 1665.1,722.4 1680,726.2 C1687.5,728.1 1692.7,729.5 1697,730.2 C1699.6,730.6 1701.4,731.1 1703.3,730.9 C1705,730.7 1706.8,730.2 1708,729.2 C1709.2,728.3 1709.8,726.9 1710.5,725.2 C1711.5,722.9 1711.9,719.4 1712.5,716.2 C1713.2,712.7 1712.9,707.8 1714.5,705.2 C1715.8,703.2 1718.2,702.5 1720,701.2 L1720,611.2 L1399.2,611.2Z" fill="#df5e53"/>
<path d="M1460,664.2 C1464.4,664.9 1467.1,665.3 1473.3,666.2 C1487.9,668.3 1524.6,673.4 1546.7,676.2 C1564.9,678.5 1578.8,680.6 1596.7,682 C1617.3,683.7 1646.1,684.6 1663.3,685 C1674.2,685.2 1683.3,685.5 1690,685 C1694.2,684.7 1697.1,684.6 1700,683.4 C1702.6,682.3 1705,680.9 1706.7,678.7 C1708.7,676.1 1709.5,672.2 1710.3,668.2 C1711.3,663.3 1711.4,656.7 1711.6,651.2 C1711.8,646 1711.7,641.8 1711.7,636.2 C1711.7,628.9 1711.7,619.5 1711.7,611.2 L1399.2,611.2Z" fill="#e87156"/>
<path d="M1460,660.7 C1464.7,661 1468.3,661.2 1474.2,661.5 C1484,662 1498.5,662.8 1513.3,663.2 C1532.6,663.7 1557.8,663.9 1580,663.5 C1602.2,663.1 1628.3,662.3 1646.7,660.9 C1659.7,659.9 1672.2,658.7 1680,657 C1684.4,656 1687.3,655.4 1690,653.7 C1692.3,652.3 1694.1,650.3 1695.5,648.2 C1696.9,646.1 1697.8,643.4 1698.3,641.2 C1698.7,639.4 1698.6,638.5 1698.7,636.2 C1698.9,631.1 1698.7,619.5 1698.7,611.2 L1399.2,611.2Z" fill="#ee865f"/>
<path d="M1460,656.7 C1465.3,656.5 1470,656.4 1475.8,656.2 C1483,655.9 1491.5,655.9 1500,654.9 C1509.5,653.8 1521.1,651.8 1530,649.5 C1537.4,647.6 1544.9,644.9 1550,642.9 C1553.3,641.6 1556.2,640.6 1558,639.2 C1559.2,638.3 1560.4,637.4 1560.5,636.2 C1560.7,634.8 1558.8,632.9 1558,631.2 L1399.2,611.2Z" fill="#f29b6b"/>
</g>
<g fill="none" stroke="#000" stroke-width="1.12" stroke-linecap="butt">
<path d="M1299.5,616.2 C1299.3,619.5 1299,622.9 1298.9,626.2 C1298.7,629.5 1298.7,632.9 1298.7,636.2 C1298.7,639.5 1298.8,642.9 1298.9,646.2 C1299,649.5 1299.2,652.9 1299.5,656.2 C1299.8,659.5 1300.1,662.9 1300.5,666.2 C1301,669.5 1301.4,672.9 1302,676.2 C1302.5,679.5 1303.1,682.9 1303.7,686.2 C1304.4,689.5 1305.1,692.9 1305.9,696.2 C1306.7,699.5 1307.5,702.9 1308.4,706.2 C1309.3,709.5 1310.3,712.9 1311.3,716.2 C1312.3,719.5 1313.4,722.9 1314.5,726.2 C1315.6,729.5 1316.8,732.9 1318,736.2 C1319.2,739.5 1320.5,742.9 1321.8,746.2 C1323.1,749.5 1324.5,752.9 1325.9,756.2 C1327.3,759.5 1328.8,762.9 1330.3,766.2 C1331.8,769.5 1333.4,772.9 1335,776.2 C1336.6,779.5 1338.2,782.9 1339.9,786.2 C1341.6,789.5 1343.4,792.9 1345.1,796.2 C1346.9,799.5 1348.7,802.9 1350.6,806.2 C1352.4,809.5 1354.3,812.9 1356.2,816.2 C1358.1,819.5 1360.1,822.9 1362.1,826.2 C1364.1,829.5 1366.1,832.9 1368.2,836.2 C1370.3,839.5 1372.4,842.9 1374.5,846.2 C1376.6,849.5 1378.8,852.9 1380.9,856.2" stroke-dasharray="29 10" stroke-dashoffset="19" stroke-width="1.3"/>
<path d="M1380.9,856.2 C1383.2,859.5 1385.3,862.9 1387.6,866.2 C1389.8,869.5 1392.1,872.9 1394.4,876.2 C1396.7,879.5 1399,882.9 1401.3,886.2 C1403.7,889.5 1406.1,892.9 1408.4,896.2 C1410.8,899.5 1413.3,902.9 1415.7,906.2 C1418.1,909.5 1420.6,912.9 1423.1,916.2 C1425.6,919.5 1428.1,922.9 1430.6,926.2 C1433.1,929.5 1435.7,932.9 1438.2,936.2 C1440.8,939.5 1443.4,942.9 1446,946.2 C1448.6,949.5 1451.3,952.9 1453.9,956.2 C1456.6,959.5 1459.3,962.9 1461.9,966.2 C1464.6,969.5 1467.4,972.9 1470.1,976.2 C1472.8,979.5 1475.6,982.9 1478.3,986.2 C1481.1,989.5 1483.9,992.9 1486.7,996.2 C1489.5,999.5 1492.3,1002.9 1495.1,1006.2 C1497.9,1009.5 1500.8,1012.9 1503.7,1016.2 C1506.5,1019.5 1509.4,1022.9 1512.3,1026.2 C1515.2,1029.5 1518.1,1032.9 1521,1036.2 C1523.9,1039.5 1526.9,1042.9 1529.8,1046.2 C1532.8,1049.5 1535.7,1052.9 1538.7,1056.2 C1541.7,1059.5 1544.7,1062.9 1547.7,1066.2 C1550.7,1069.5 1553.7,1072.9 1556.7,1076.2 C1559.7,1079.5 1562.8,1082.9 1565.8,1086.2 C1568.8,1089.5 1571.9,1092.9 1575,1096.2 C1578,1099.5 1581.1,1102.9 1584.2,1106.2 C1587.3,1109.5 1590.3,1112.9 1593.4,1116.2 C1596.5,1119.5 1599.7,1122.9 1602.8,1126.2 C1605.9,1129.5 1609,1132.9 1612.1,1136.2 C1615.3,1139.5 1618.4,1142.9 1621.5,1146.2 C1624.7,1149.5 1627.8,1152.9 1631,1156.2 C1634.1,1159.5 1637.3,1162.9 1640.4,1166.2 C1643.6,1169.5 1646.8,1172.9 1650,1176.2 C1653.1,1179.5 1656.3,1182.9 1659.5,1186.2 C1662.7,1189.5 1665.8,1192.9 1669,1196.2 C1672.2,1199.5 1675.4,1202.9 1678.6,1206.2 C1681.8,1209.5 1685.2,1213.1 1688.1,1216.2 C1690.7,1218.8 1692.8,1221 1695.3,1223.4 C1697.9,1226 1700.5,1229.2 1703.3,1231.2 C1705.9,1233.1 1708.7,1235.1 1711.4,1235.4 C1713.6,1235.7 1715.8,1234.3 1718,1233.7" stroke-dasharray="30 8"/>
<path d="M1720,1009.2 C1717.9,1006.5 1715.1,1004.6 1713.8,1001.2 C1712.1,996.8 1713.2,989.9 1712.5,984.5 C1711.9,979.4 1711.5,974.2 1710,969.5 C1708.5,964.8 1706.4,960.3 1703.3,956.2 C1699.9,951.6 1695.4,949 1690,943.7 C1681,934.9 1666.1,919.1 1655,907.9 C1645.1,897.8 1636.2,889.2 1626.7,879.4 C1616.8,869.1 1607.7,858.4 1596.7,847.4 C1584.3,835 1566.9,819.3 1555.8,808.9 C1548.3,801.9 1544,797.9 1536.7,791.2 C1526.8,782.1 1513.1,769.1 1501.7,759.5 C1491.5,750.9 1482.1,743.9 1471.7,736.2 C1460.8,728.1 1447,718.8 1437.5,712 C1430.7,707.1 1425.8,703.5 1420,699.2" stroke-dasharray="30 8"/>
<path d="M1301,616.2 C1300.7,622.9 1300,628.2 1300.2,636.2 C1300.5,648.2 1302,667.2 1304.4,681.2 C1306.5,693.7 1309.3,704.4 1313,716.2 C1316.9,728.7 1321.8,741.7 1327.3,754.2 C1332.8,767 1339.5,780.2 1346,792.2 C1352.1,803.4 1358.9,814.6 1364.9,824.2 C1370,832.3 1374.3,838.6 1379.5,846.2 C1385.2,854.7 1391.8,863.9 1398,872.7" stroke-dasharray="29 10" stroke-dashoffset="19" stroke-width="1.3"/>
<path d="M1398,872.7 C1406.4,884.9 1414.4,896.8 1423.3,909.2 C1432.8,922.3 1442.8,936.2 1453.3,949.2 C1463.9,962.3 1475.6,974.8 1486.7,987.5 C1497.7,1000.1 1508.5,1013 1519.5,1025.2 C1530.1,1037 1540.4,1047.4 1551.5,1059.4 C1563.8,1072.6 1577.5,1087.7 1590,1101.2 C1601.9,1114.1 1613.2,1126.5 1625,1138.7 C1636.6,1150.8 1648.9,1163.3 1660,1174.2 C1669.9,1183.9 1680.3,1193.8 1688.3,1201.2 C1694,1206.5 1699.5,1212.1 1703.3,1214.5 C1705.3,1215.7 1707.1,1217 1708.3,1216.5 C1709.6,1216 1710.2,1213.7 1710.8,1211.2 C1711.9,1206.3 1711.2,1196.4 1711,1187.9 C1710.8,1177.8 1710.2,1164.8 1709.2,1154.5 C1708.4,1145.5 1708.1,1137 1705.8,1129.5 C1703.7,1122.7 1700.4,1117.3 1696.7,1111.2 C1692.6,1104.5 1686.6,1098.1 1681.7,1091.2 C1676.6,1084.2 1672.5,1077.8 1666.7,1069.5 C1658.8,1058.2 1647.3,1042.8 1638.3,1029.5 C1629.6,1016.7 1621.6,1004 1613.3,991.2 C1605,978.4 1596.6,965.7 1588.3,952.9 C1580,940.1 1571.3,927.1 1563.3,914.5 C1555.8,902.6 1548.5,890.9 1541.7,879.4 C1535.2,868.5 1530.8,859.1 1523.3,847.2 C1513.4,831.5 1498.7,811 1486.7,793.9 C1475.4,777.8 1464.6,760.7 1453.3,747.2 C1443.7,735.7 1431.5,726.2 1424.2,717.2 C1418.9,710.7 1416.1,705.2 1412,699.2" stroke-dasharray="30 8"/>
<path d="M1302.5,616.2 C1302.2,622.9 1301.5,628.2 1301.7,636.2 C1302,648.2 1303.5,667.2 1305.9,681.2 C1308,693.7 1310.8,704.4 1314.6,716.2 C1318.5,728.7 1323.7,741.7 1329.3,754.2 C1335,767 1341.7,780.2 1348.5,792.2 C1355,803.5 1362.5,814.6 1368.9,824.2 C1374.4,832.3 1379.4,838.7 1384.5,846.2 C1389.7,853.9 1394.8,861.9 1400,869.7" stroke-dasharray="29 10" stroke-dashoffset="19" stroke-width="1.3"/>
<path d="M1400,869.7 C1410,883.2 1419.6,896.7 1430,910.2 C1440.7,924.1 1453.2,940 1463.3,951.7 C1471.1,960.8 1478.4,968.7 1485,975.2 C1490,980.2 1494.8,984.7 1499,987.7 C1502.1,989.9 1505.9,993.1 1507.5,992.5 C1508.5,992.1 1508.9,990.2 1509,988.7 C1509.2,986.4 1508.1,983.8 1507,980.2 C1505,973.7 1500.2,963.1 1496.7,953.2 C1492.5,941.4 1488.2,927 1484,914.2 C1479.9,901.7 1475.6,888.9 1472,877.2 C1468.8,866.7 1466.6,858 1463.3,847.2 C1459.4,834.4 1455.4,819.9 1450,805.5 C1444,789.4 1435.6,770.6 1428.3,755.5 C1422,742.4 1413.8,730.1 1409.2,719.7 C1405.8,712.1 1404.4,706 1402,699.2" stroke-dasharray="30 8"/>
<path d="M1304,616.2 C1303.7,622.9 1303,628.2 1303.2,636.2 C1303.5,648.2 1304.9,667.2 1307.4,681.2 C1309.5,693.7 1312.5,704.4 1316.3,716.2 C1320.3,728.7 1325.6,741.7 1331.3,754.2 C1337.1,767 1344.1,780.2 1351,792.2 C1357.6,803.5 1365.8,815.3 1371.9,824.2 C1376.5,830.8 1380.2,835.5 1384.3,841.2" stroke-dasharray="29 10" stroke-dashoffset="19" stroke-width="1.3"/>
<path d="M1384.3,841.2 C1386.9,844.2 1389.6,847.7 1392,850.2 C1393.9,852.2 1395.7,854.1 1397.5,855.2 C1398.9,856 1400.7,857.1 1401.7,856.7 C1402.6,856.3 1403,854.8 1403.3,853.2 C1403.9,850.4 1403.1,846.5 1403,841.2 C1402.8,831.1 1403.1,811.7 1402.6,797.2 C1402.1,783.1 1401.8,768.8 1400,755.5 C1398.3,743 1394.5,730 1392.5,719.7 C1391,711.9 1390.2,706 1389,699.2" stroke-dasharray="30 8"/>
<path d="M1305.5,616.2 C1305.2,622.9 1304.5,628.2 1304.7,636.2 C1305,648.2 1306.4,667.2 1308.9,681.2 C1311,693.7 1314.4,705.9 1318,716.2 C1321,724.8 1324.8,732.2 1328.1,739.2 C1331.1,745.3 1334,751.1 1336.9,756.2 C1339.4,760.6 1341.8,764.2 1344.2,768.2" stroke-dasharray="29 10" stroke-dashoffset="19" stroke-width="1.3"/>
<path d="M1344.2,768.2 C1345.3,770.4 1345.9,772.8 1347.5,774.7 C1349.2,776.7 1352.7,780.2 1354.2,779.7 C1355.8,779.2 1355.7,774.1 1356.7,771.4 C1357.7,768.8 1358.7,767 1360,763.9 C1362.2,758.8 1366.2,750.2 1368.3,743.9 C1370,738.6 1371.1,733.5 1372,728.7 C1372.8,724.4 1373.3,720.7 1373.8,716.2 C1374.4,711 1374.6,704.9 1375,699.2" stroke-dasharray="30 8"/>
<path d="M1307.5,616.2 C1307.5,622.9 1307.4,629.4 1307.5,636.2 C1307.6,643.3 1307.7,651.2 1308.3,657.9 C1308.9,663.8 1309.8,669 1310.8,674.5 C1311.8,680.1 1312.9,686 1314.2,691.2 C1315.4,695.9 1316.9,700.1 1318.3,704.5" stroke-dasharray="29 10" stroke-dashoffset="19" stroke-width="1.3"/>
<path d="M1318.3,704.5 C1319.4,707.8 1320.5,711.4 1321.7,714.5 C1322.8,717.3 1323.6,720.4 1325,722.2 C1326,723.5 1327.2,724.9 1328.3,724.9 C1329.4,724.9 1330.7,723.2 1331.7,722 C1332.9,720.6 1333.4,718.3 1335,716.6 C1337,714.4 1340.6,712.6 1343.3,710.4 C1346.1,708.1 1348.8,705.6 1351.7,702.9 C1355,699.9 1358.6,696.4 1362,693.2"/>
<path d="M1309.2,616.2 C1309.2,622.9 1309.1,629.4 1309.2,636.2 C1309.3,643.4 1308.7,653 1310,658.2 C1310.8,661.4 1311.5,664.2 1313.5,665.4 C1315.7,666.7 1319.7,666 1323,665.2 C1326.9,664.2 1331,661.2 1335,659.2"/>
<path d="M1450,688.2 C1453.1,689.8 1455.8,692 1459.2,692.9 C1463,693.9 1468.3,693.9 1471.7,693.7 C1474,693.6 1476.4,693.6 1477.5,692.7 C1478.2,692.1 1478.7,691.1 1478.5,690.2 C1478.3,689 1476.6,687.4 1475,686.2 C1472.8,684.5 1469,683.4 1465.8,682 C1462.3,680.4 1458.6,678.8 1455,677.2"/>
<path d="M1460,667.2 C1464.2,668.3 1466.6,668.9 1472.5,670.4 C1486.9,673.9 1522.7,681.5 1546.7,687.9 C1569.6,694 1591.1,701.5 1613.3,707.9 C1635.5,714.3 1665.1,722.4 1680,726.2 C1687.5,728.1 1692.7,729.5 1697,730.2 C1699.6,730.6 1701.4,731.1 1703.3,730.9 C1705,730.7 1706.8,730.2 1708,729.2 C1709.2,728.3 1709.8,726.9 1710.5,725.2 C1711.5,722.9 1711.9,719.4 1712.5,716.2 C1713.2,712.7 1712.9,707.8 1714.5,705.2 C1715.8,703.2 1718.2,702.5 1720,701.2" stroke-dasharray="30 8"/>
<path d="M1460,664.2 C1464.4,664.9 1467.1,665.3 1473.3,666.2 C1487.9,668.3 1524.6,673.4 1546.7,676.2 C1564.9,678.5 1578.8,680.6 1596.7,682 C1617.3,683.7 1646.1,684.6 1663.3,685 C1674.2,685.2 1683.3,685.5 1690,685 C1694.2,684.7 1697.1,684.6 1700,683.4 C1702.6,682.3 1705,680.9 1706.7,678.7 C1708.7,676.1 1709.5,672.2 1710.3,668.2 C1711.3,663.3 1711.4,656.7 1711.6,651.2 C1711.8,646 1711.7,641.8 1711.7,636.2 C1711.7,628.9 1711.7,619.5 1711.7,611.2" stroke-dasharray="30 8"/>
<path d="M1460,660.7 C1464.7,661 1468.3,661.2 1474.2,661.5 C1484,662 1498.5,662.8 1513.3,663.2 C1532.6,663.7 1557.8,663.9 1580,663.5 C1602.2,663.1 1628.3,662.3 1646.7,660.9 C1659.7,659.9 1672.2,658.7 1680,657 C1684.4,656 1687.3,655.4 1690,653.7 C1692.3,652.3 1694.1,650.3 1695.5,648.2 C1696.9,646.1 1697.8,643.4 1698.3,641.2 C1698.7,639.4 1698.6,638.5 1698.7,636.2 C1698.9,631.1 1698.7,619.5 1698.7,611.2" stroke-dasharray="30 8"/>
<path d="M1460,656.7 C1465.3,656.5 1470,656.4 1475.8,656.2 C1483,655.9 1491.5,655.9 1500,654.9 C1509.5,653.8 1521.1,651.8 1530,649.5 C1537.4,647.6 1544.9,644.9 1550,642.9 C1553.3,641.6 1556.2,640.6 1558,639.2 C1559.2,638.3 1560.4,637.4 1560.5,636.2 C1560.7,634.8 1558.8,632.9 1558,631.2" stroke-dasharray="30 8"/>
</g>
</g>
<path d="M1242.3,426.4 L1635,7.8" stroke="#444" stroke-width="1.6" stroke-dasharray="30 5" stroke-dashoffset="12" fill="none"/><path d="M1242.3,844.8 L1635,1263.4" stroke="#000" stroke-width="1.5" stroke-dasharray="30 7" stroke-dashoffset="12" fill="none"/>
</g>
<ellipse cx="1399.2" cy="635" rx="78.3" ry="83.2" fill="#fff" stroke="#000" stroke-width="1.4"/>
<path d="M1242.3,3 V1268.5" stroke="#222" stroke-width="1.4" fill="none"/><g stroke="#555" stroke-width="1.1" fill="none"><path d="M1234.9,1261.9 H1242.3"/><path d="M1234.9,1220.2 H1242.3"/><path d="M1234.9,1178.4 H1242.3"/><path d="M1231,1136.6 H1242.3"/><path d="M1234.9,1094.8 H1242.3"/><path d="M1234.9,1053 H1242.3"/><path d="M1234.9,1011.3 H1242.3"/><path d="M1231,969.5 H1242.3"/><path d="M1234.9,927.7 H1242.3"/><path d="M1234.9,885.9 H1242.3"/><path d="M1234.9,844.2 H1242.3"/><path d="M1231,802.4 H1242.3"/><path d="M1234.9,760.6 H1242.3"/><path d="M1234.9,718.8 H1242.3"/><path d="M1234.9,677.1 H1242.3"/><path d="M1231,635.3 H1242.3"/><path d="M1234.9,593.5 H1242.3"/><path d="M1234.9,551.8 H1242.3"/><path d="M1234.9,510 H1242.3"/><path d="M1231,468.2 H1242.3"/><path d="M1234.9,426.4 H1242.3"/><path d="M1234.9,384.6 H1242.3"/><path d="M1234.9,342.9 H1242.3"/><path d="M1231,301.1 H1242.3"/><path d="M1234.9,259.3 H1242.3"/><path d="M1234.9,217.5 H1242.3"/><path d="M1234.9,175.8 H1242.3"/><path d="M1231,134 H1242.3"/><path d="M1234.9,92.2 H1242.3"/><path d="M1234.9,50.4 H1242.3"/><path d="M1234.9,8.7 H1242.3"/></g><text transform="translate(1230.2,145) scale(1.000,1.120)" font-size="31" text-anchor="end">6</text><text transform="translate(1230.2,312.1) scale(1.000,1.120)" font-size="31" text-anchor="end">4</text><text transform="translate(1230.2,479.2) scale(1.000,1.120)" font-size="31" text-anchor="end">2</text><text transform="translate(1230.2,646.3) scale(1.000,1.120)" font-size="31" text-anchor="end">0</text><text transform="translate(1230.2,813.4) scale(1.000,1.120)" font-size="31" text-anchor="end">2</text><text transform="translate(1230.2,980.5) scale(1.000,1.120)" font-size="31" text-anchor="end">4</text><text transform="translate(1230.2,1147.6) scale(1.000,1.120)" font-size="31" text-anchor="end">6</text>
<text transform="translate(1283.1,146.5) scale(1.000,1.085)" font-size="29.3">With FPPC</text>
<text transform="translate(1283.1,1158.5) scale(1.000,1.085)" font-size="29.3">Without FPPC</text>
<text transform="translate(1294.5,1240.4) scale(1.000,1.060)" font-size="42.5">(c)</text>
<text transform="translate(1188.7,632) rotate(-90) scale(1.045,1)" font-size="39.2" font-style="italic">y/d</text>
<g shape-rendering="crispEdges"><rect x="1314.3" y="1.7" width="7.3" height="39.6" fill="#2f0f3d"/><rect x="1321" y="1.7" width="14.1" height="39.6" fill="#421349"/><rect x="1334.5" y="1.7" width="14.1" height="39.6" fill="#551654"/><rect x="1347.9" y="1.7" width="14.1" height="39.6" fill="#69185c"/><rect x="1361.4" y="1.7" width="14.1" height="39.6" fill="#7d1b61"/><rect x="1374.8" y="1.7" width="14.1" height="39.6" fill="#912062"/><rect x="1388.3" y="1.7" width="14.1" height="39.6" fill="#a42760"/><rect x="1401.7" y="1.7" width="14.1" height="39.6" fill="#b6305d"/><rect x="1415.2" y="1.7" width="14.1" height="39.6" fill="#c73c59"/><rect x="1428.7" y="1.7" width="14.1" height="39.6" fill="#d44c54"/><rect x="1442.1" y="1.7" width="14.1" height="39.6" fill="#df5e53"/><rect x="1455.6" y="1.7" width="14.1" height="39.6" fill="#e87156"/><rect x="1469" y="1.7" width="14.1" height="39.6" fill="#ee865f"/><rect x="1482.5" y="1.7" width="14.1" height="39.6" fill="#f29b6b"/><rect x="1495.9" y="1.7" width="14.1" height="39.6" fill="#f6af79"/><rect x="1509.4" y="1.7" width="14.1" height="39.6" fill="#f9c489"/><rect x="1522.8" y="1.7" width="14.1" height="39.6" fill="#fbd89c"/><rect x="1536.3" y="1.7" width="7.3" height="39.6" fill="#fdedb0"/></g><path d="M1374.8,1.7 V41.3" stroke="#333" stroke-width="0.8" fill="none"/><path d="M1482.5,1.7 V41.3" stroke="#333" stroke-width="0.8" fill="none"/>
<rect x="1314.3" y="1.7" width="228.7" height="39.6" fill="none" stroke="#9a9a9a" stroke-width="0.7"/>
<text transform="translate(1272,38.5) scale(1.000,1.100)" font-size="30" font-style="italic">T</text>
<text transform="translate(1288,21.5) scale(1.000,1.100)" font-size="16">*</text>
<text transform="translate(1321,73.2) scale(1.000,1.070)" font-size="25" text-anchor="middle">0.1</text>
<text transform="translate(1374,73.2) scale(1.000,1.070)" font-size="25" text-anchor="middle">0.5</text>
<text transform="translate(1429,73.2) scale(1.000,1.070)" font-size="25" text-anchor="middle">0.9</text>
<text transform="translate(1483,73.2) scale(1.000,1.070)" font-size="25" text-anchor="middle">1.4</text>
<text transform="translate(1536.5,73.2) scale(1.000,1.070)" font-size="25" text-anchor="middle">1.8</text>
</svg>
</body>
</html>
